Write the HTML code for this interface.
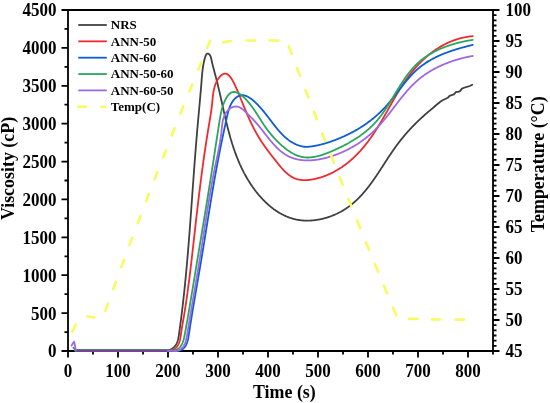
<!DOCTYPE html>
<html><head><meta charset="utf-8"><title>Viscosity chart</title>
<style>html,body{margin:0;padding:0;background:#fff;}svg{display:block;}</style>
</head><body>
<svg width="550" height="403" viewBox="0 0 550 403">
<rect width="550" height="403" fill="#fff"/>
<path d="M68,10 H493 M68,351 H493 M68,9.2 V351.8 M493,9.2 V351.8" stroke="#000" stroke-width="1.8" fill="none"/>
<path d="M61.5,351.00 H68 M64.5,332.06 H68 M61.5,313.11 H68 M64.5,294.17 H68 M61.5,275.22 H68 M64.5,256.28 H68 M61.5,237.33 H68 M64.5,218.39 H68 M61.5,199.44 H68 M64.5,180.50 H68 M61.5,161.56 H68 M64.5,142.61 H68 M61.5,123.67 H68 M64.5,104.72 H68 M61.5,85.78 H68 M64.5,66.83 H68 M61.5,47.89 H68 M64.5,28.94 H68 M61.5,10.00 H68 M68.00,351 V357.5 M93.00,351 V354.5 M118.00,351 V357.5 M143.00,351 V354.5 M168.00,351 V357.5 M193.00,351 V354.5 M218.00,351 V357.5 M243.00,351 V354.5 M268.00,351 V357.5 M293.00,351 V354.5 M318.00,351 V357.5 M343.00,351 V354.5 M368.00,351 V357.5 M393.00,351 V354.5 M418.00,351 V357.5 M443.00,351 V354.5 M468.00,351 V357.5 M493.00,351 V354.5 M493,351.00 H499.5 M493,345.83 H496.5 M493,340.67 H496.5 M493,335.50 H496.5 M493,330.33 H496.5 M493,325.17 H496.5 M493,320.00 H499.5 M493,314.83 H496.5 M493,309.67 H496.5 M493,304.50 H496.5 M493,299.33 H496.5 M493,294.17 H496.5 M493,289.00 H499.5 M493,283.83 H496.5 M493,278.67 H496.5 M493,273.50 H496.5 M493,268.33 H496.5 M493,263.17 H496.5 M493,258.00 H499.5 M493,252.83 H496.5 M493,247.67 H496.5 M493,242.50 H496.5 M493,237.33 H496.5 M493,232.17 H496.5 M493,227.00 H499.5 M493,221.83 H496.5 M493,216.67 H496.5 M493,211.50 H496.5 M493,206.33 H496.5 M493,201.17 H496.5 M493,196.00 H499.5 M493,190.83 H496.5 M493,185.67 H496.5 M493,180.50 H496.5 M493,175.33 H496.5 M493,170.17 H496.5 M493,165.00 H499.5 M493,159.83 H496.5 M493,154.67 H496.5 M493,149.50 H496.5 M493,144.33 H496.5 M493,139.17 H496.5 M493,134.00 H499.5 M493,128.83 H496.5 M493,123.67 H496.5 M493,118.50 H496.5 M493,113.33 H496.5 M493,108.17 H496.5 M493,103.00 H499.5 M493,97.83 H496.5 M493,92.67 H496.5 M493,87.50 H496.5 M493,82.33 H496.5 M493,77.17 H496.5 M493,72.00 H499.5 M493,66.83 H496.5 M493,61.67 H496.5 M493,56.50 H496.5 M493,51.33 H496.5 M493,46.17 H496.5 M493,41.00 H499.5 M493,35.83 H496.5 M493,30.67 H496.5 M493,25.50 H496.5 M493,20.33 H496.5 M493,15.17 H496.5 M493,10.00 H499.5" stroke="#000" stroke-width="1.8" fill="none"/>
<path d="M75.00,350.10 L166.00,350.10 L166.53,350.19 L167.06,350.23 L167.61,350.22 L168.15,350.16 L168.70,350.07 L169.24,349.93 L169.78,349.75 L170.32,349.54 L170.84,349.30 L171.36,349.04 L171.86,348.74 L172.34,348.43 L172.81,348.09 L173.26,347.74 L173.68,347.38 L174.08,347.00 L174.46,346.61 L174.81,346.21 L175.15,345.79 L175.47,345.37 L175.76,344.93 L176.04,344.49 L176.31,344.03 L176.55,343.57 L176.78,343.09 L177.00,342.61 L177.20,342.12 L177.38,341.62 L177.56,341.12 L177.72,340.61 L177.87,340.09 L178.01,339.57 L178.14,339.04 L178.27,338.51 L178.38,337.97 L178.49,337.43 L178.59,336.89 L178.69,336.34 L178.78,335.79 L178.86,335.24 L178.95,334.69 L179.03,334.13 L179.11,333.58 L179.18,333.02 L179.26,332.47 L179.34,331.91 L179.42,331.36 L179.49,330.81 L179.57,330.25 L179.64,329.70 L179.72,329.15 L179.80,328.59 L179.87,328.04 L179.95,327.49 L180.02,326.94 L180.09,326.38 L180.17,325.83 L180.24,325.28 L180.31,324.73 L180.39,324.18 L180.46,323.62 L180.53,323.07 L180.60,322.52 L180.68,321.97 L180.75,321.42 L180.82,320.87 L180.89,320.32 L180.96,319.77 L181.03,319.22 L181.10,318.67 L181.17,318.12 L181.24,317.57 L181.31,317.02 L181.38,316.47 L181.45,315.93 L181.52,315.38 L181.58,314.83 L181.65,314.28 L181.72,313.73 L181.79,313.18 L181.85,312.64 L181.92,312.09 L181.99,311.54 L182.05,310.99 L182.12,310.44 L182.18,309.90 L182.25,309.35 L182.31,308.80 L182.38,308.26 L182.44,307.71 L182.51,307.16 L182.57,306.62 L182.64,306.07 L182.70,305.52 L182.76,304.98 L182.83,304.43 L182.89,303.89 L182.95,303.34 L183.01,302.79 L183.08,302.25 L183.14,301.70 L183.20,301.16 L183.26,300.61 L183.32,300.07 L183.38,299.52 L183.44,298.98 L183.50,298.43 L183.56,297.89 L183.62,297.34 L183.68,296.80 L183.74,296.26 L183.80,295.71 L183.86,295.17 L183.92,294.62 L183.98,294.08 L184.04,293.53 L184.10,292.99 L184.15,292.45 L184.21,291.90 L184.27,291.36 L184.33,290.82 L184.38,290.27 L184.44,289.73 L184.50,289.19 L184.55,288.64 L184.61,288.10 L184.67,287.56 L184.72,287.01 L184.78,286.47 L184.83,285.93 L184.89,285.38 L184.94,284.84 L185.00,284.30 L185.05,283.76 L185.11,283.21 L185.16,282.67 L185.22,282.13 L185.27,281.58 L185.32,281.04 L185.38,280.50 L185.43,279.96 L185.48,279.42 L185.54,278.87 L185.59,278.33 L185.64,277.79 L185.69,277.25 L185.75,276.70 L185.80,276.16 L185.85,275.62 L185.90,275.08 L185.95,274.53 L186.00,273.99 L186.06,273.45 L186.11,272.91 L186.16,272.37 L186.21,271.82 L186.26,271.28 L186.31,270.74 L186.36,270.20 L186.41,269.66 L186.46,269.11 L186.51,268.57 L186.56,268.03 L186.61,267.49 L186.66,266.94 L186.70,266.40 L186.75,265.86 L186.80,265.32 L186.85,264.78 L186.90,264.23 L186.95,263.69 L187.00,263.15 L187.04,262.61 L187.09,262.07 L187.14,261.52 L187.19,260.98 L187.23,260.44 L187.28,259.90 L187.33,259.35 L187.38,258.81 L187.42,258.27 L187.47,257.73 L187.52,257.18 L187.56,256.64 L187.61,256.10 L187.65,255.56 L187.70,255.01 L187.75,254.47 L187.79,253.93 L187.84,253.39 L187.88,252.84 L187.93,252.30 L187.97,251.76 L188.02,251.21 L188.07,250.67 L188.11,250.13 L188.15,249.59 L188.20,249.04 L188.24,248.50 L188.29,247.96 L188.33,247.41 L188.38,246.87 L188.42,246.33 L188.47,245.78 L188.51,245.24 L188.55,244.70 L188.60,244.15 L188.64,243.61 L188.68,243.07 L188.73,242.52 L188.77,241.98 L188.82,241.44 L188.86,240.89 L188.90,240.35 L188.94,239.81 L188.99,239.26 L189.03,238.72 L189.07,238.18 L189.12,237.63 L189.16,237.09 L189.20,236.54 L189.24,236.00 L189.29,235.46 L189.33,234.91 L189.37,234.37 L189.41,233.83 L189.45,233.28 L189.50,232.74 L189.54,232.19 L189.58,231.65 L189.62,231.10 L189.66,230.56 L189.70,230.02 L189.75,229.47 L189.79,228.93 L189.83,228.38 L189.87,227.84 L189.91,227.30 L189.95,226.75 L189.99,226.21 L190.03,225.66 L190.07,225.12 L190.12,224.57 L190.16,224.03 L190.20,223.48 L190.24,222.94 L190.28,222.39 L190.32,221.85 L190.36,221.30 L190.40,220.76 L190.44,220.21 L190.48,219.67 L190.52,219.13 L190.56,218.58 L190.60,218.04 L190.64,217.49 L190.68,216.94 L190.72,216.40 L190.76,215.85 L190.80,215.31 L190.84,214.76 L190.88,214.22 L190.92,213.67 L190.96,213.13 L191.00,212.58 L191.04,212.04 L191.08,211.49 L191.12,210.95 L191.16,210.40 L191.20,209.86 L191.24,209.31 L191.28,208.76 L191.32,208.22 L191.36,207.67 L191.40,207.13 L191.44,206.58 L191.48,206.04 L191.52,205.49 L191.55,204.94 L191.59,204.40 L191.63,203.85 L191.67,203.31 L191.71,202.76 L191.75,202.21 L191.79,201.67 L191.83,201.12 L191.87,200.58 L191.91,200.03 L191.95,199.48 L191.99,198.94 L192.03,198.39 L192.07,197.84 L192.11,197.30 L192.14,196.75 L192.18,196.20 L192.22,195.66 L192.26,195.11 L192.30,194.56 L192.34,194.02 L192.38,193.47 L192.42,192.92 L192.46,192.38 L192.50,191.83 L192.54,191.28 L192.58,190.74 L192.62,190.19 L192.66,189.64 L192.69,189.09 L192.73,188.55 L192.77,188.00 L192.81,187.45 L192.85,186.91 L192.89,186.36 L192.93,185.81 L192.97,185.26 L193.01,184.72 L193.05,184.17 L193.09,183.62 L193.13,183.07 L193.17,182.53 L193.21,181.98 L193.25,181.43 L193.29,180.88 L193.33,180.34 L193.37,179.79 L193.41,179.24 L193.45,178.69 L193.49,178.14 L193.53,177.60 L193.57,177.05 L193.61,176.50 L193.65,175.95 L193.69,175.40 L193.73,174.86 L193.77,174.31 L193.81,173.76 L193.85,173.21 L193.89,172.66 L193.93,172.11 L193.97,171.57 L194.01,171.02 L194.05,170.47 L194.09,169.92 L194.13,169.37 L194.17,168.82 L194.21,168.27 L194.25,167.73 L194.30,167.18 L194.34,166.63 L194.38,166.08 L194.42,165.53 L194.46,164.98 L194.50,164.43 L194.54,163.88 L194.58,163.33 L194.63,162.78 L194.67,162.24 L194.71,161.69 L194.75,161.14 L194.79,160.59 L194.83,160.04 L194.88,159.49 L194.92,158.94 L194.96,158.39 L195.00,157.84 L195.04,157.29 L195.09,156.74 L195.13,156.19 L195.17,155.64 L195.21,155.09 L195.26,154.54 L195.30,153.99 L195.34,153.44 L195.39,152.89 L195.43,152.34 L195.47,151.79 L195.52,151.24 L195.56,150.69 L195.60,150.14 L195.65,149.59 L195.69,149.04 L195.73,148.49 L195.78,147.94 L195.82,147.39 L195.86,146.84 L195.91,146.29 L195.95,145.74 L196.00,145.19 L196.04,144.64 L196.09,144.09 L196.13,143.54 L196.18,142.98 L196.22,142.43 L196.27,141.88 L196.31,141.33 L196.36,140.78 L196.40,140.23 L196.45,139.68 L196.49,139.13 L196.54,138.58 L196.59,138.02 L196.63,137.47 L196.68,136.92 L196.72,136.37 L196.77,135.82 L196.82,135.27 L196.86,134.72 L196.91,134.16 L196.96,133.61 L197.00,133.06 L197.05,132.51 L197.10,131.96 L197.15,131.41 L197.19,130.85 L197.24,130.30 L197.29,129.75 L197.34,129.20 L197.39,128.65 L197.43,128.09 L197.48,127.54 L197.53,126.99 L197.58,126.44 L197.63,125.88 L197.68,125.33 L197.73,124.78 L197.78,124.23 L197.82,123.68 L197.87,123.12 L197.92,122.57 L197.97,122.02 L198.02,121.47 L198.07,120.92 L198.12,120.36 L198.17,119.81 L198.22,119.26 L198.27,118.71 L198.32,118.16 L198.37,117.61 L198.42,117.06 L198.47,116.51 L198.52,115.95 L198.57,115.40 L198.62,114.85 L198.67,114.30 L198.72,113.75 L198.77,113.20 L198.82,112.65 L198.87,112.10 L198.92,111.55 L198.97,111.00 L199.02,110.46 L199.07,109.91 L199.12,109.36 L199.17,108.81 L199.22,108.26 L199.27,107.71 L199.32,107.17 L199.37,106.62 L199.42,106.07 L199.47,105.53 L199.52,104.98 L199.57,104.43 L199.62,103.89 L199.67,103.34 L199.71,102.80 L199.76,102.25 L199.81,101.71 L199.86,101.16 L199.91,100.62 L199.96,100.08 L200.01,99.53 L200.05,98.99 L200.10,98.45 L200.15,97.91 L200.20,97.37 L200.25,96.82 L200.29,96.28 L200.34,95.74 L200.39,95.20 L200.44,94.66 L200.48,94.13 L200.53,93.59 L200.58,93.05 L200.62,92.51 L200.67,91.97 L200.71,91.44 L200.76,90.90 L200.81,90.37 L200.85,89.83 L200.90,89.30 L200.94,88.76 L200.99,88.23 L201.03,87.70 L201.07,87.17 L201.12,86.63 L201.16,86.10 L201.21,85.57 L201.25,85.04 L201.29,84.51 L201.33,83.98 L201.38,83.46 L201.42,82.93 L201.46,82.40 L201.50,81.88 L201.54,81.35 L201.59,80.83 L201.63,80.30 L201.67,79.78 L201.71,79.25 L201.75,78.73 L201.79,78.21 L201.83,77.69 L201.87,77.16 L201.91,76.64 L201.95,76.12 L202.00,75.59 L202.04,75.07 L202.09,74.54 L202.14,74.01 L202.19,73.48 L202.24,72.95 L202.30,72.42 L202.35,71.88 L202.41,71.35 L202.47,70.81 L202.54,70.26 L202.61,69.72 L202.68,69.17 L202.75,68.62 L202.83,68.07 L202.91,67.51 L203.00,66.95 L203.09,66.38 L203.18,65.81 L203.28,65.24 L203.39,64.66 L203.49,64.07 L203.61,63.49 L203.73,62.89 L203.85,62.29 L203.98,61.69 L204.12,61.08 L204.26,60.47 L204.40,59.84 L204.56,59.22 L204.72,58.59 L204.89,57.97 L205.07,57.37 L205.26,56.79 L205.46,56.23 L205.67,55.71 L205.90,55.23 L206.14,54.80 L206.39,54.43 L206.66,54.11 L206.95,53.87 L207.25,53.71 L207.58,53.62 L207.92,53.63 L208.29,53.73 L208.65,53.91 L209.02,54.17 L209.37,54.49 L209.70,54.86 L210.00,55.28 L210.26,55.75 L210.49,56.24 L210.69,56.76 L210.86,57.31 L211.02,57.88 L211.17,58.45 L211.30,59.04 L211.44,59.63 L211.57,60.22 L211.70,60.80 L211.83,61.38 L211.96,61.96 L212.10,62.53 L212.23,63.10 L212.37,63.66 L212.50,64.23 L212.64,64.79 L212.78,65.34 L212.91,65.90 L213.05,66.45 L213.19,67.00 L213.33,67.54 L213.47,68.09 L213.61,68.63 L213.74,69.17 L213.88,69.71 L214.02,70.24 L214.16,70.78 L214.30,71.31 L214.44,71.84 L214.58,72.37 L214.72,72.90 L214.86,73.42 L215.00,73.95 L215.14,74.47 L215.28,75.00 L215.42,75.52 L215.56,76.04 L215.70,76.57 L215.83,77.09 L215.97,77.61 L216.11,78.13 L216.24,78.65 L216.38,79.17 L216.51,79.69 L216.65,80.22 L216.78,80.74 L216.91,81.26 L217.05,81.78 L217.18,82.31 L217.31,82.83 L217.44,83.35 L217.57,83.88 L217.70,84.40 L217.83,84.93 L217.95,85.45 L218.08,85.98 L218.21,86.50 L218.33,87.03 L218.46,87.55 L218.58,88.08 L218.71,88.61 L218.83,89.13 L218.96,89.66 L219.08,90.19 L219.20,90.72 L219.33,91.24 L219.45,91.77 L219.57,92.30 L219.69,92.83 L219.81,93.36 L219.93,93.89 L220.05,94.42 L220.18,94.95 L220.30,95.48 L220.41,96.01 L220.53,96.54 L220.65,97.07 L220.77,97.60 L220.89,98.13 L221.01,98.66 L221.13,99.19 L221.25,99.72 L221.37,100.25 L221.48,100.78 L221.60,101.32 L221.72,101.85 L221.84,102.38 L221.96,102.91 L222.08,103.44 L222.19,103.97 L222.31,104.51 L222.43,105.04 L222.55,105.57 L222.67,106.10 L222.78,106.64 L222.90,107.17 L223.02,107.70 L223.14,108.23 L223.26,108.77 L223.38,109.30 L223.50,109.83 L223.62,110.37 L223.73,110.90 L223.85,111.43 L223.97,111.96 L224.09,112.50 L224.22,113.03 L224.34,113.56 L224.46,114.10 L224.58,114.63 L224.70,115.16 L224.82,115.70 L224.94,116.23 L225.07,116.76 L225.19,117.29 L225.31,117.83 L225.44,118.36 L225.56,118.89 L225.69,119.42 L225.81,119.96 L225.94,120.49 L226.07,121.02 L226.19,121.55 L226.32,122.09 L226.45,122.62 L226.58,123.15 L226.71,123.68 L226.84,124.21 L226.97,124.74 L227.10,125.28 L227.23,125.81 L227.36,126.34 L227.49,126.87 L227.63,127.40 L227.76,127.93 L227.90,128.46 L228.03,128.99 L228.17,129.52 L228.31,130.05 L228.45,130.58 L228.59,131.11 L228.73,131.64 L228.87,132.17 L229.01,132.70 L229.15,133.23 L229.30,133.76 L229.44,134.28 L229.59,134.81 L229.73,135.34 L229.88,135.87 L230.03,136.40 L230.18,136.92 L230.33,137.45 L230.48,137.98 L230.63,138.50 L230.78,139.03 L230.94,139.55 L231.09,140.08 L231.25,140.60 L231.41,141.13 L231.57,141.65 L231.73,142.18 L231.89,142.70 L232.05,143.23 L232.22,143.75 L232.38,144.27 L232.55,144.79 L232.71,145.32 L232.88,145.84 L233.05,146.36 L233.22,146.88 L233.40,147.40 L233.57,147.92 L233.75,148.44 L233.92,148.96 L234.10,149.48 L234.28,150.00 L234.46,150.52 L234.64,151.03 L234.83,151.55 L235.01,152.07 L235.20,152.58 L235.39,153.10 L235.58,153.62 L235.77,154.13 L235.96,154.65 L236.15,155.16 L236.35,155.67 L236.55,156.19 L236.75,156.70 L236.95,157.21 L237.15,157.73 L237.35,158.24 L237.56,158.75 L237.77,159.26 L237.98,159.77 L238.19,160.28 L238.40,160.79 L238.61,161.29 L238.83,161.80 L239.05,162.31 L239.27,162.82 L239.49,163.32 L239.71,163.83 L239.94,164.33 L240.16,164.84 L240.39,165.34 L240.62,165.84 L240.86,166.35 L241.09,166.85 L241.33,167.35 L241.57,167.85 L241.81,168.35 L242.05,168.85 L242.29,169.35 L242.54,169.85 L242.79,170.34 L243.04,170.84 L243.29,171.34 L243.55,171.83 L243.80,172.33 L244.06,172.82 L244.32,173.32 L244.59,173.81 L244.85,174.30 L245.12,174.79 L245.39,175.28 L245.66,175.77 L245.94,176.26 L246.21,176.75 L246.49,177.24 L246.77,177.73 L247.06,178.21 L247.34,178.70 L247.63,179.18 L247.92,179.67 L248.21,180.15 L248.50,180.63 L248.80,181.11 L249.10,181.59 L249.40,182.07 L249.70,182.54 L250.01,183.02 L250.31,183.49 L250.62,183.96 L250.93,184.43 L251.25,184.90 L251.56,185.37 L251.88,185.84 L252.20,186.30 L252.52,186.77 L252.85,187.23 L253.17,187.69 L253.50,188.15 L253.83,188.61 L254.16,189.06 L254.50,189.52 L254.84,189.97 L255.17,190.42 L255.51,190.87 L255.86,191.31 L256.20,191.76 L256.55,192.20 L256.90,192.64 L257.25,193.08 L257.60,193.52 L257.96,193.95 L258.32,194.38 L258.67,194.81 L259.04,195.24 L259.40,195.66 L259.77,196.09 L260.13,196.51 L260.50,196.93 L260.87,197.34 L261.25,197.76 L261.62,198.17 L262.00,198.58 L262.38,198.98 L262.76,199.39 L263.15,199.79 L263.53,200.18 L263.92,200.58 L264.31,200.97 L264.70,201.36 L265.09,201.75 L265.49,202.13 L265.89,202.51 L266.29,202.89 L266.69,203.27 L267.09,203.64 L267.49,204.01 L267.90,204.38 L268.31,204.74 L268.72,205.10 L269.14,205.46 L269.55,205.81 L269.97,206.16 L270.39,206.51 L270.81,206.85 L271.23,207.19 L271.65,207.53 L272.08,207.87 L272.51,208.20 L272.94,208.52 L273.37,208.85 L273.80,209.17 L274.24,209.48 L274.68,209.80 L275.12,210.11 L275.56,210.41 L276.00,210.71 L276.45,211.01 L276.90,211.30 L277.34,211.59 L277.80,211.88 L278.25,212.16 L278.70,212.44 L279.16,212.72 L279.62,212.99 L280.08,213.25 L280.54,213.51 L281.00,213.77 L281.47,214.03 L281.94,214.28 L282.40,214.52 L282.88,214.76 L283.35,215.00 L283.82,215.23 L284.30,215.46 L284.78,215.68 L285.26,215.90 L285.74,216.12 L286.22,216.33 L286.71,216.53 L287.20,216.74 L287.68,216.93 L288.17,217.12 L288.67,217.31 L289.16,217.49 L289.66,217.67 L290.15,217.84 L290.65,218.01 L291.15,218.17 L291.66,218.33 L292.16,218.49 L292.67,218.63 L293.18,218.78 L293.69,218.91 L294.20,219.05 L294.71,219.18 L295.22,219.30 L295.74,219.42 L296.26,219.53 L296.78,219.63 L297.30,219.74 L297.82,219.83 L298.35,219.92 L298.88,220.01 L299.40,220.09 L299.93,220.16 L300.47,220.23 L301.00,220.29 L301.53,220.35 L302.07,220.40 L302.61,220.45 L303.15,220.49 L303.69,220.53 L304.23,220.56 L304.77,220.59 L305.31,220.61 L305.86,220.62 L306.40,220.63 L306.95,220.64 L307.50,220.64 L308.05,220.63 L308.60,220.62 L309.15,220.61 L309.70,220.59 L310.25,220.56 L310.80,220.53 L311.35,220.50 L311.90,220.46 L312.46,220.41 L313.01,220.36 L313.56,220.31 L314.12,220.25 L314.67,220.18 L315.22,220.11 L315.78,220.04 L316.33,219.96 L316.88,219.88 L317.44,219.79 L317.99,219.70 L318.54,219.60 L319.09,219.50 L319.65,219.39 L320.20,219.28 L320.75,219.17 L321.30,219.05 L321.85,218.93 L322.40,218.80 L322.95,218.66 L323.49,218.53 L324.04,218.39 L324.58,218.24 L325.13,218.09 L325.67,217.94 L326.21,217.78 L326.76,217.62 L327.30,217.45 L327.83,217.28 L328.37,217.11 L328.91,216.93 L329.44,216.75 L329.98,216.56 L330.51,216.37 L331.04,216.18 L331.56,215.98 L332.09,215.78 L332.61,215.57 L333.14,215.36 L333.66,215.15 L334.18,214.93 L334.69,214.71 L335.21,214.48 L335.72,214.26 L336.23,214.02 L336.74,213.79 L337.24,213.55 L337.75,213.31 L338.25,213.06 L338.74,212.81 L339.24,212.56 L339.73,212.30 L340.22,212.04 L340.71,211.78 L341.19,211.51 L341.68,211.24 L342.15,210.97 L342.63,210.69 L343.10,210.41 L343.57,210.13 L344.04,209.84 L344.50,209.55 L344.96,209.26 L345.42,208.97 L345.88,208.67 L346.33,208.36 L346.78,208.06 L347.23,207.75 L347.67,207.44 L348.11,207.13 L348.55,206.81 L348.99,206.49 L349.42,206.17 L349.85,205.84 L350.28,205.52 L350.70,205.19 L351.12,204.85 L351.55,204.52 L351.96,204.18 L352.38,203.84 L352.79,203.49 L353.20,203.14 L353.61,202.80 L354.02,202.44 L354.42,202.09 L354.82,201.73 L355.22,201.37 L355.61,201.01 L356.01,200.65 L356.40,200.28 L356.79,199.91 L357.18,199.54 L357.56,199.17 L357.95,198.79 L358.33,198.41 L358.71,198.03 L359.09,197.65 L359.46,197.27 L359.83,196.88 L360.21,196.49 L360.58,196.10 L360.94,195.71 L361.31,195.31 L361.67,194.92 L362.04,194.52 L362.40,194.12 L362.75,193.71 L363.11,193.31 L363.47,192.90 L363.82,192.50 L364.17,192.09 L364.52,191.67 L364.87,191.26 L365.22,190.85 L365.56,190.43 L365.91,190.01 L366.25,189.59 L366.59,189.17 L366.93,188.75 L367.27,188.32 L367.61,187.89 L367.94,187.47 L368.28,187.04 L368.61,186.61 L368.94,186.18 L369.27,185.74 L369.60,185.31 L369.93,184.87 L370.25,184.44 L370.58,184.00 L370.90,183.56 L371.23,183.12 L371.55,182.67 L371.87,182.23 L372.19,181.79 L372.51,181.34 L372.83,180.90 L373.15,180.45 L373.46,180.00 L373.78,179.55 L374.09,179.10 L374.41,178.65 L374.72,178.20 L375.03,177.74 L375.34,177.29 L375.65,176.84 L375.96,176.38 L376.27,175.92 L376.58,175.47 L376.89,175.01 L377.20,174.55 L377.50,174.09 L377.81,173.63 L378.12,173.17 L378.42,172.71 L378.73,172.25 L379.03,171.79 L379.34,171.33 L379.64,170.87 L379.94,170.40 L380.25,169.94 L380.55,169.48 L380.85,169.01 L381.15,168.55 L381.45,168.08 L381.76,167.62 L382.06,167.15 L382.36,166.69 L382.66,166.22 L382.96,165.76 L383.26,165.29 L383.56,164.83 L383.87,164.36 L384.17,163.90 L384.47,163.43 L384.77,162.97 L385.07,162.50 L385.37,162.04 L385.67,161.57 L385.98,161.10 L386.28,160.64 L386.58,160.18 L386.88,159.71 L387.19,159.25 L387.49,158.78 L387.79,158.32 L388.10,157.86 L388.40,157.39 L388.70,156.93 L389.01,156.47 L389.32,156.01 L389.62,155.55 L389.93,155.09 L390.23,154.63 L390.54,154.17 L390.85,153.71 L391.16,153.25 L391.47,152.79 L391.78,152.34 L392.09,151.88 L392.40,151.42 L392.71,150.97 L393.03,150.52 L393.34,150.06 L393.66,149.61 L393.97,149.16 L394.29,148.71 L394.61,148.26 L394.92,147.81 L395.24,147.37 L395.56,146.92 L395.88,146.47 L396.21,146.03 L396.53,145.59 L396.85,145.14 L397.18,144.70 L397.51,144.26 L397.84,143.83 L398.16,143.39 L398.50,142.95 L398.83,142.52 L399.16,142.09 L399.49,141.65 L399.83,141.22 L400.16,140.79 L400.50,140.36 L400.84,139.94 L401.18,139.51 L401.52,139.08 L401.86,138.66 L402.21,138.24 L402.55,137.82 L402.90,137.40 L403.24,136.98 L403.59,136.56 L403.94,136.14 L404.29,135.72 L404.64,135.31 L404.99,134.90 L405.35,134.48 L405.70,134.07 L406.06,133.66 L406.42,133.25 L406.77,132.84 L407.13,132.44 L407.49,132.03 L407.86,131.62 L408.22,131.22 L408.58,130.82 L408.95,130.42 L409.31,130.01 L409.68,129.61 L410.05,129.22 L410.42,128.82 L410.79,128.42 L411.16,128.02 L411.54,127.63 L411.91,127.24 L412.29,126.84 L412.66,126.45 L413.04,126.06 L413.42,125.67 L413.80,125.28 L414.18,124.89 L414.56,124.51 L414.95,124.12 L415.33,123.74 L415.71,123.35 L416.10,122.97 L416.49,122.59 L416.88,122.21 L417.27,121.83 L417.66,121.45 L418.05,121.07 L418.44,120.69 L418.84,120.31 L419.23,119.94 L419.63,119.56 L420.03,119.19 L420.43,118.81 L420.83,118.44 L421.23,118.07 L421.63,117.70 L422.03,117.33 L422.44,116.96 L422.84,116.59 L423.25,116.23 L423.66,115.86 L424.07,115.49 L424.48,115.13 L424.89,114.77 L425.30,114.40 L425.71,114.04 L426.13,113.68 L426.54,113.32 L426.96,112.96 L427.38,112.60 L427.79,112.24 L428.21,111.88 L428.63,111.53 L429.06,111.17 L429.48,110.82 L429.90,110.46 L430.33,110.11 L430.75,109.75 L431.18,109.40 L431.61,109.05 L432.04,108.70 L432.47,108.35 L432.90,108.00 L436.60,104.80 L440.30,101.80 L442.60,100.30 L444.60,99.30 L447.80,97.80 L449.50,95.90 L451.70,95.10 L453.90,94.40 L456.10,91.90 L458.30,91.80 L460.10,91.10 L461.90,88.60 L464.80,87.50 L467.70,86.70 L469.90,86.00 L472.10,84.80" fill="none" stroke="#404040" stroke-width="1.8" stroke-linejoin="round" stroke-linecap="round"/>
<path d="M75.00,350.50 L169.00,350.50 L169.54,350.53 L170.08,350.53 L170.59,350.50 L171.10,350.43 L171.59,350.34 L172.07,350.21 L172.54,350.06 L172.99,349.88 L173.43,349.67 L173.85,349.44 L174.27,349.18 L174.67,348.91 L175.05,348.61 L175.43,348.29 L175.78,347.96 L176.13,347.60 L176.46,347.24 L176.78,346.85 L177.08,346.45 L177.38,346.04 L177.65,345.62 L177.92,345.19 L178.17,344.75 L178.40,344.30 L178.62,343.85 L178.83,343.39 L179.02,342.92 L179.20,342.46 L179.37,341.98 L179.53,341.51 L179.67,341.03 L179.81,340.55 L179.93,340.06 L180.05,339.57 L180.16,339.08 L180.26,338.59 L180.36,338.09 L180.44,337.60 L180.53,337.10 L180.61,336.60 L180.68,336.10 L180.76,335.60 L180.83,335.10 L180.90,334.60 L180.96,334.10 L181.03,333.60 L181.10,333.09 L181.17,332.59 L181.24,332.10 L181.32,331.60 L181.39,331.10 L181.47,330.60 L181.54,330.10 L181.62,329.61 L181.70,329.11 L181.78,328.62 L181.86,328.12 L181.94,327.63 L182.03,327.13 L182.11,326.64 L182.19,326.15 L182.28,325.65 L182.36,325.16 L182.45,324.67 L182.53,324.17 L182.62,323.68 L182.70,323.19 L182.79,322.70 L182.88,322.21 L182.96,321.72 L183.05,321.22 L183.13,320.73 L183.22,320.24 L183.30,319.75 L183.39,319.26 L183.47,318.77 L183.56,318.28 L183.64,317.78 L183.72,317.29 L183.81,316.80 L183.89,316.31 L183.97,315.82 L184.05,315.33 L184.14,314.83 L184.22,314.34 L184.30,313.85 L184.38,313.36 L184.46,312.87 L184.54,312.37 L184.62,311.88 L184.70,311.39 L184.78,310.90 L184.86,310.40 L184.93,309.91 L185.01,309.42 L185.09,308.93 L185.17,308.43 L185.24,307.94 L185.32,307.45 L185.40,306.96 L185.47,306.46 L185.55,305.97 L185.62,305.48 L185.70,304.99 L185.77,304.49 L185.85,304.00 L185.92,303.51 L186.00,303.01 L186.07,302.52 L186.14,302.03 L186.22,301.53 L186.29,301.04 L186.36,300.55 L186.43,300.05 L186.51,299.56 L186.58,299.07 L186.65,298.57 L186.72,298.08 L186.79,297.59 L186.86,297.09 L186.93,296.60 L187.00,296.11 L187.07,295.61 L187.14,295.12 L187.21,294.63 L187.28,294.13 L187.35,293.64 L187.42,293.14 L187.49,292.65 L187.56,292.16 L187.62,291.66 L187.69,291.17 L187.76,290.67 L187.83,290.18 L187.89,289.69 L187.96,289.19 L188.03,288.70 L188.09,288.20 L188.16,287.71 L188.22,287.21 L188.29,286.72 L188.36,286.22 L188.42,285.73 L188.49,285.24 L188.55,284.74 L188.62,284.25 L188.68,283.75 L188.74,283.26 L188.81,282.76 L188.87,282.27 L188.94,281.77 L189.00,281.28 L189.06,280.78 L189.12,280.29 L189.19,279.79 L189.25,279.30 L189.31,278.80 L189.38,278.31 L189.44,277.81 L189.50,277.32 L189.56,276.82 L189.62,276.33 L189.68,275.83 L189.75,275.33 L189.81,274.84 L189.87,274.34 L189.93,273.85 L189.99,273.35 L190.05,272.86 L190.11,272.36 L190.17,271.87 L190.23,271.37 L190.29,270.87 L190.35,270.38 L190.41,269.88 L190.47,269.39 L190.53,268.89 L190.59,268.39 L190.65,267.90 L190.71,267.40 L190.77,266.91 L190.82,266.41 L190.88,265.91 L190.94,265.42 L191.00,264.92 L191.06,264.42 L191.12,263.93 L191.17,263.43 L191.23,262.93 L191.29,262.44 L191.35,261.94 L191.41,261.44 L191.46,260.95 L191.52,260.45 L191.58,259.95 L191.64,259.46 L191.69,258.96 L191.75,258.46 L191.81,257.97 L191.86,257.47 L191.92,256.97 L191.98,256.48 L192.03,255.98 L192.09,255.48 L192.15,254.98 L192.20,254.49 L192.26,253.99 L192.32,253.49 L192.37,253.00 L192.43,252.50 L192.49,252.00 L192.54,251.50 L192.60,251.01 L192.65,250.51 L192.71,250.01 L192.77,249.51 L192.82,249.02 L192.88,248.52 L192.93,248.02 L192.99,247.52 L193.05,247.03 L193.10,246.53 L193.16,246.03 L193.21,245.53 L193.27,245.03 L193.32,244.54 L193.38,244.04 L193.43,243.54 L193.49,243.04 L193.55,242.54 L193.60,242.05 L193.66,241.55 L193.71,241.05 L193.77,240.55 L193.82,240.05 L193.88,239.55 L193.93,239.06 L193.99,238.56 L194.05,238.06 L194.10,237.56 L194.16,237.06 L194.21,236.56 L194.27,236.06 L194.32,235.57 L194.38,235.07 L194.44,234.57 L194.49,234.07 L194.55,233.57 L194.60,233.07 L194.66,232.57 L194.71,232.07 L194.77,231.57 L194.83,231.08 L194.88,230.58 L194.94,230.08 L194.99,229.58 L195.05,229.08 L195.11,228.58 L195.16,228.08 L195.22,227.58 L195.28,227.08 L195.33,226.58 L195.39,226.08 L195.44,225.58 L195.50,225.08 L195.56,224.59 L195.61,224.09 L195.67,223.59 L195.73,223.09 L195.78,222.59 L195.84,222.09 L195.90,221.59 L195.95,221.09 L196.01,220.59 L196.07,220.09 L196.13,219.59 L196.18,219.09 L196.24,218.59 L196.30,218.09 L196.36,217.59 L196.41,217.09 L196.47,216.59 L196.53,216.09 L196.59,215.59 L196.64,215.09 L196.70,214.59 L196.76,214.09 L196.82,213.59 L196.87,213.09 L196.93,212.59 L196.99,212.09 L197.05,211.59 L197.11,211.09 L197.17,210.59 L197.22,210.09 L197.28,209.59 L197.34,209.09 L197.40,208.59 L197.46,208.09 L197.52,207.59 L197.58,207.09 L197.64,206.60 L197.69,206.10 L197.75,205.60 L197.81,205.10 L197.87,204.60 L197.93,204.10 L197.99,203.60 L198.05,203.10 L198.11,202.60 L198.17,202.10 L198.23,201.60 L198.29,201.10 L198.35,200.60 L198.41,200.10 L198.47,199.60 L198.53,199.10 L198.59,198.60 L198.65,198.10 L198.71,197.60 L198.77,197.10 L198.83,196.60 L198.89,196.10 L198.95,195.60 L199.01,195.11 L199.08,194.61 L199.14,194.11 L199.20,193.61 L199.26,193.11 L199.32,192.61 L199.38,192.11 L199.44,191.61 L199.50,191.11 L199.57,190.61 L199.63,190.11 L199.69,189.62 L199.75,189.12 L199.81,188.62 L199.88,188.12 L199.94,187.62 L200.00,187.12 L200.06,186.62 L200.13,186.12 L200.19,185.63 L200.25,185.13 L200.32,184.63 L200.38,184.13 L200.44,183.63 L200.51,183.13 L200.57,182.64 L200.63,182.14 L200.70,181.64 L200.76,181.14 L200.82,180.64 L200.89,180.15 L200.95,179.65 L201.02,179.15 L201.08,178.65 L201.15,178.16 L201.21,177.66 L201.28,177.16 L201.34,176.66 L201.41,176.17 L201.47,175.67 L201.54,175.17 L201.60,174.68 L201.67,174.18 L201.73,173.68 L201.80,173.18 L201.86,172.69 L201.93,172.19 L202.00,171.69 L202.06,171.20 L202.13,170.70 L202.19,170.20 L202.26,169.71 L202.33,169.21 L202.39,168.72 L202.46,168.22 L202.53,167.72 L202.60,167.23 L202.66,166.73 L202.73,166.24 L202.80,165.74 L202.87,165.25 L202.93,164.75 L203.00,164.26 L203.07,163.76 L203.14,163.26 L203.21,162.77 L203.28,162.27 L203.34,161.78 L203.41,161.29 L203.48,160.79 L203.55,160.30 L203.62,159.80 L203.69,159.31 L203.76,158.81 L203.83,158.32 L203.90,157.83 L203.97,157.33 L204.04,156.84 L204.11,156.34 L204.18,155.85 L204.25,155.36 L204.32,154.86 L204.39,154.37 L204.46,153.88 L204.53,153.38 L204.61,152.89 L204.68,152.40 L204.75,151.91 L204.82,151.41 L204.89,150.92 L204.97,150.43 L205.04,149.94 L205.11,149.45 L205.18,148.95 L205.26,148.46 L205.33,147.97 L205.40,147.48 L205.47,146.99 L205.55,146.50 L205.62,146.00 L205.69,145.51 L205.77,145.02 L205.84,144.53 L205.92,144.04 L205.99,143.55 L206.07,143.06 L206.14,142.57 L206.22,142.08 L206.29,141.59 L206.37,141.10 L206.44,140.61 L206.52,140.12 L206.59,139.63 L206.67,139.14 L206.74,138.66 L206.82,138.17 L206.90,137.68 L206.97,137.19 L207.05,136.70 L207.13,136.21 L207.20,135.72 L207.28,135.24 L207.36,134.75 L207.44,134.26 L207.51,133.77 L207.59,133.29 L207.67,132.80 L207.75,132.31 L207.83,131.83 L207.90,131.34 L207.98,130.85 L208.06,130.37 L208.14,129.88 L208.22,129.39 L208.30,128.91 L208.38,128.42 L208.46,127.94 L208.54,127.45 L208.62,126.97 L208.70,126.48 L208.78,126.00 L208.86,125.51 L208.94,125.03 L209.02,124.54 L209.11,124.06 L209.19,123.58 L209.27,123.09 L209.35,122.61 L209.43,122.12 L209.51,121.64 L209.59,121.16 L209.68,120.67 L209.76,120.19 L209.84,119.70 L209.92,119.22 L210.00,118.73 L210.08,118.24 L210.16,117.76 L210.24,117.27 L210.32,116.78 L210.40,116.30 L210.47,115.81 L210.55,115.32 L210.63,114.83 L210.71,114.34 L210.78,113.85 L210.86,113.35 L210.93,112.86 L211.01,112.37 L211.08,111.87 L211.15,111.38 L211.22,110.88 L211.29,110.38 L211.36,109.88 L211.43,109.38 L211.50,108.88 L211.57,108.38 L211.63,107.88 L211.70,107.37 L211.76,106.87 L211.82,106.36 L211.88,105.85 L211.94,105.34 L212.00,104.83 L212.06,104.31 L212.11,103.80 L212.17,103.28 L212.22,102.76 L212.27,102.24 L212.33,101.72 L212.38,101.20 L212.43,100.67 L212.48,100.15 L212.53,99.62 L212.58,99.10 L212.63,98.57 L212.68,98.04 L212.74,97.51 L212.79,96.98 L212.85,96.46 L212.91,95.93 L212.98,95.40 L213.04,94.87 L213.11,94.34 L213.18,93.81 L213.26,93.29 L213.34,92.76 L213.42,92.23 L213.51,91.71 L213.60,91.18 L213.70,90.66 L213.80,90.14 L213.91,89.62 L214.03,89.10 L214.15,88.58 L214.27,88.07 L214.41,87.56 L214.55,87.05 L214.69,86.54 L214.85,86.03 L215.01,85.53 L215.18,85.03 L215.36,84.53 L215.55,84.03 L215.75,83.54 L215.95,83.05 L216.17,82.56 L216.39,82.08 L216.63,81.60 L216.87,81.12 L217.12,80.65 L217.39,80.19 L217.65,79.74 L217.93,79.29 L218.22,78.85 L218.51,78.43 L218.81,78.01 L219.11,77.61 L219.42,77.23 L219.74,76.85 L220.06,76.49 L220.38,76.15 L220.72,75.83 L221.05,75.52 L221.39,75.24 L221.73,74.97 L222.08,74.73 L222.43,74.50 L222.78,74.30 L223.13,74.13 L223.48,73.98 L223.84,73.85 L224.20,73.75 L224.55,73.68 L224.91,73.64 L225.27,73.63 L225.63,73.65 L225.98,73.70 L226.34,73.78 L226.69,73.90 L227.04,74.05 L227.39,74.24 L227.74,74.45 L228.08,74.70 L228.43,74.98 L228.77,75.29 L229.11,75.62 L229.44,75.98 L229.77,76.36 L230.10,76.76 L230.43,77.18 L230.75,77.62 L231.07,78.08 L231.38,78.55 L231.69,79.04 L232.00,79.54 L232.31,80.06 L232.61,80.58 L232.90,81.11 L233.19,81.64 L233.48,82.18 L233.76,82.73 L234.04,83.28 L234.32,83.82 L234.58,84.37 L234.85,84.91 L235.11,85.45 L235.36,85.99 L235.61,86.51 L235.85,87.04 L236.09,87.55 L236.33,88.06 L236.55,88.57 L236.78,89.07 L237.00,89.56 L237.22,90.06 L237.43,90.54 L237.64,91.02 L237.85,91.50 L238.05,91.98 L238.25,92.45 L238.45,92.92 L238.65,93.38 L238.84,93.84 L239.03,94.30 L239.22,94.76 L239.40,95.21 L239.59,95.66 L239.77,96.11 L239.95,96.56 L240.13,97.01 L240.31,97.46 L240.49,97.90 L240.66,98.35 L240.84,98.79 L241.02,99.23 L241.19,99.68 L241.37,100.12 L241.54,100.57 L241.72,101.01 L241.90,101.46 L242.07,101.90 L242.25,102.35 L242.43,102.80 L242.61,103.25 L242.79,103.70 L242.97,104.15 L243.15,104.60 L243.34,105.05 L243.52,105.51 L243.70,105.96 L243.89,106.42 L244.07,106.87 L244.26,107.33 L244.45,107.79 L244.64,108.25 L244.82,108.70 L245.01,109.16 L245.20,109.62 L245.40,110.08 L245.59,110.54 L245.78,111.00 L245.97,111.47 L246.17,111.93 L246.36,112.39 L246.56,112.85 L246.76,113.31 L246.96,113.77 L247.16,114.24 L247.36,114.70 L247.56,115.16 L247.76,115.62 L247.96,116.09 L248.17,116.55 L248.37,117.01 L248.58,117.47 L248.78,117.94 L248.99,118.40 L249.20,118.86 L249.41,119.32 L249.62,119.78 L249.83,120.24 L250.05,120.70 L250.26,121.16 L250.47,121.62 L250.69,122.08 L250.91,122.54 L251.13,123.00 L251.34,123.46 L251.57,123.91 L251.79,124.37 L252.01,124.82 L252.23,125.28 L252.46,125.73 L252.68,126.19 L252.91,126.64 L253.14,127.09 L253.37,127.54 L253.60,127.99 L253.83,128.44 L254.06,128.89 L254.30,129.33 L254.53,129.78 L254.77,130.22 L255.00,130.66 L255.24,131.11 L255.48,131.55 L255.72,131.99 L255.97,132.43 L256.21,132.86 L256.45,133.30 L256.70,133.73 L256.95,134.16 L257.20,134.60 L257.45,135.02 L257.70,135.45 L257.95,135.88 L258.20,136.30 L258.46,136.73 L258.71,137.15 L258.97,137.57 L259.23,137.99 L259.49,138.41 L259.75,138.83 L260.01,139.24 L260.28,139.66 L260.54,140.07 L260.81,140.49 L261.07,140.90 L261.34,141.31 L261.61,141.72 L261.88,142.13 L262.15,142.54 L262.43,142.94 L262.70,143.35 L262.98,143.75 L263.25,144.16 L263.53,144.56 L263.81,144.97 L264.09,145.37 L264.37,145.77 L264.65,146.17 L264.93,146.57 L265.22,146.97 L265.50,147.37 L265.79,147.77 L266.08,148.17 L266.37,148.56 L266.65,148.96 L266.95,149.36 L267.24,149.75 L267.53,150.15 L267.82,150.55 L268.12,150.94 L268.41,151.34 L268.71,151.73 L269.01,152.13 L269.31,152.52 L269.61,152.92 L269.91,153.31 L270.21,153.71 L270.51,154.10 L270.81,154.50 L271.12,154.89 L271.42,155.29 L271.73,155.68 L272.04,156.08 L272.35,156.47 L272.65,156.87 L272.96,157.26 L273.28,157.66 L273.59,158.06 L273.90,158.45 L274.21,158.85 L274.53,159.25 L274.84,159.65 L275.16,160.05 L275.48,160.44 L275.80,160.84 L276.11,161.24 L276.43,161.65 L276.76,162.05 L277.08,162.45 L277.40,162.85 L277.72,163.25 L278.05,163.66 L278.37,164.06 L278.70,164.46 L279.03,164.86 L279.36,165.26 L279.69,165.66 L280.02,166.06 L280.35,166.46 L280.69,166.85 L281.02,167.25 L281.36,167.64 L281.70,168.02 L282.04,168.41 L282.39,168.79 L282.73,169.17 L283.08,169.55 L283.43,169.93 L283.78,170.30 L284.14,170.66 L284.49,171.03 L284.85,171.38 L285.21,171.74 L285.57,172.09 L285.94,172.43 L286.31,172.77 L286.68,173.10 L287.05,173.43 L287.43,173.76 L287.81,174.07 L288.19,174.38 L288.57,174.69 L288.96,174.99 L289.35,175.28 L289.75,175.56 L290.14,175.84 L290.54,176.11 L290.95,176.37 L291.36,176.63 L291.77,176.87 L292.18,177.11 L292.60,177.34 L293.02,177.56 L293.44,177.78 L293.87,177.98 L294.30,178.17 L294.74,178.36 L295.18,178.53 L295.62,178.70 L296.07,178.85 L296.52,179.00 L296.98,179.14 L297.44,179.26 L297.90,179.38 L298.37,179.49 L298.83,179.59 L299.31,179.68 L299.78,179.77 L300.26,179.84 L300.74,179.91 L301.22,179.96 L301.70,180.02 L302.19,180.06 L302.68,180.09 L303.17,180.12 L303.66,180.14 L304.16,180.15 L304.66,180.16 L305.15,180.15 L305.65,180.15 L306.16,180.13 L306.66,180.11 L307.16,180.08 L307.66,180.04 L308.17,180.00 L308.68,179.96 L309.18,179.90 L309.69,179.85 L310.20,179.78 L310.70,179.71 L311.21,179.64 L311.72,179.56 L312.23,179.47 L312.73,179.38 L313.24,179.29 L313.75,179.19 L314.25,179.08 L314.76,178.97 L315.26,178.86 L315.76,178.75 L316.26,178.62 L316.77,178.50 L317.26,178.37 L317.76,178.24 L318.26,178.11 L318.75,177.97 L319.25,177.83 L319.74,177.68 L320.23,177.54 L320.72,177.39 L321.20,177.23 L321.69,177.08 L322.17,176.92 L322.65,176.76 L323.13,176.59 L323.60,176.42 L324.08,176.25 L324.55,176.08 L325.03,175.90 L325.50,175.72 L325.97,175.54 L326.43,175.35 L326.90,175.16 L327.36,174.97 L327.82,174.78 L328.28,174.58 L328.74,174.38 L329.20,174.18 L329.65,173.98 L330.11,173.77 L330.56,173.56 L331.01,173.34 L331.46,173.13 L331.90,172.91 L332.35,172.69 L332.79,172.46 L333.23,172.24 L333.67,172.01 L334.11,171.78 L334.55,171.54 L334.98,171.31 L335.42,171.07 L335.85,170.83 L336.28,170.58 L336.71,170.33 L337.13,170.09 L337.56,169.83 L337.98,169.58 L338.41,169.32 L338.83,169.06 L339.25,168.80 L339.66,168.54 L340.08,168.27 L340.49,168.01 L340.91,167.74 L341.32,167.46 L341.73,167.19 L342.13,166.91 L342.54,166.63 L342.94,166.35 L343.35,166.06 L343.75,165.78 L344.15,165.49 L344.55,165.20 L344.94,164.91 L345.34,164.61 L345.73,164.31 L346.13,164.02 L346.52,163.71 L346.91,163.41 L347.29,163.11 L347.68,162.80 L348.06,162.49 L348.45,162.18 L348.83,161.87 L349.21,161.55 L349.59,161.23 L349.97,160.91 L350.34,160.59 L350.71,160.27 L351.09,159.95 L351.46,159.62 L351.83,159.29 L352.20,158.96 L352.56,158.63 L352.93,158.29 L353.29,157.96 L353.65,157.62 L354.01,157.28 L354.37,156.94 L354.73,156.60 L355.09,156.25 L355.44,155.91 L355.80,155.56 L356.15,155.21 L356.50,154.86 L356.85,154.51 L357.20,154.15 L357.54,153.80 L357.89,153.44 L358.23,153.08 L358.57,152.72 L358.91,152.36 L359.25,152.00 L359.59,151.63 L359.93,151.27 L360.26,150.90 L360.60,150.53 L360.93,150.16 L361.26,149.79 L361.59,149.41 L361.92,149.04 L362.25,148.66 L362.57,148.29 L362.90,147.91 L363.22,147.53 L363.54,147.15 L363.86,146.76 L364.18,146.38 L364.50,145.99 L364.81,145.61 L365.13,145.22 L365.44,144.83 L365.75,144.44 L366.06,144.05 L366.37,143.66 L366.68,143.27 L366.99,142.87 L367.29,142.48 L367.60,142.08 L367.90,141.68 L368.20,141.28 L368.50,140.89 L368.80,140.48 L369.10,140.08 L369.39,139.68 L369.69,139.28 L369.98,138.87 L370.27,138.47 L370.57,138.06 L370.85,137.65 L371.14,137.25 L371.43,136.84 L371.72,136.43 L372.00,136.02 L372.29,135.61 L372.57,135.20 L372.85,134.78 L373.13,134.37 L373.41,133.95 L373.69,133.54 L373.97,133.12 L374.24,132.71 L374.52,132.29 L374.79,131.87 L375.07,131.45 L375.34,131.03 L375.61,130.61 L375.88,130.19 L376.15,129.77 L376.42,129.35 L376.69,128.93 L376.95,128.50 L377.22,128.08 L377.48,127.66 L377.75,127.23 L378.01,126.81 L378.27,126.38 L378.54,125.95 L378.80,125.53 L379.06,125.10 L379.32,124.67 L379.58,124.24 L379.84,123.81 L380.09,123.38 L380.35,122.95 L380.61,122.52 L380.86,122.09 L381.12,121.66 L381.37,121.23 L381.63,120.80 L381.88,120.37 L382.14,119.93 L382.39,119.50 L382.64,119.07 L382.89,118.63 L383.14,118.20 L383.40,117.77 L383.65,117.33 L383.90,116.90 L384.15,116.46 L384.40,116.03 L384.65,115.59 L384.89,115.16 L385.14,114.72 L385.39,114.28 L385.64,113.85 L385.89,113.41 L386.14,112.98 L386.38,112.54 L386.63,112.10 L386.88,111.67 L387.12,111.23 L387.37,110.79 L387.62,110.36 L387.86,109.92 L388.11,109.48 L388.36,109.04 L388.60,108.61 L388.85,108.17 L389.10,107.73 L389.34,107.30 L389.59,106.86 L389.84,106.42 L390.08,105.99 L390.33,105.55 L390.58,105.11 L390.82,104.68 L391.07,104.24 L391.32,103.80 L391.56,103.37 L391.81,102.93 L392.06,102.49 L392.31,102.06 L392.56,101.62 L392.80,101.19 L393.05,100.75 L393.30,100.32 L393.55,99.88 L393.80,99.45 L394.05,99.02 L394.30,98.58 L394.55,98.15 L394.80,97.71 L395.05,97.28 L395.31,96.85 L395.56,96.42 L395.81,95.99 L396.07,95.55 L396.32,95.12 L396.57,94.69 L396.83,94.26 L397.08,93.83 L397.34,93.40 L397.60,92.97 L397.85,92.54 L398.11,92.12 L398.37,91.69 L398.63,91.26 L398.89,90.84 L399.15,90.41 L399.41,89.98 L399.67,89.56 L399.94,89.13 L400.20,88.71 L400.47,88.29 L400.73,87.86 L401.00,87.44 L401.26,87.02 L401.53,86.60 L401.80,86.18 L402.07,85.76 L402.34,85.34 L402.61,84.92 L402.88,84.51 L403.16,84.09 L403.43,83.67 L403.71,83.26 L403.98,82.84 L404.26,82.43 L404.54,82.02 L404.82,81.61 L405.10,81.20 L405.38,80.78 L405.67,80.38 L405.95,79.97 L406.24,79.56 L406.52,79.15 L406.81,78.75 L407.10,78.34 L407.39,77.94 L407.68,77.53 L407.97,77.13 L408.27,76.73 L408.56,76.33 L408.86,75.93 L409.16,75.53 L409.46,75.13 L409.76,74.74 L410.06,74.34 L410.36,73.95 L410.67,73.55 L410.97,73.16 L411.28,72.77 L411.59,72.38 L411.90,71.99 L412.21,71.60 L412.53,71.21 L412.84,70.83 L413.16,70.44 L413.48,70.06 L413.80,69.68 L414.12,69.30 L414.44,68.92 L414.77,68.54 L415.10,68.16 L415.42,67.78 L415.76,67.41 L416.09,67.04 L416.42,66.66 L416.76,66.29 L417.09,65.92 L417.43,65.55 L417.77,65.19 L418.11,64.82 L418.46,64.46 L418.80,64.09 L419.15,63.73 L419.50,63.37 L419.85,63.01 L420.20,62.66 L420.55,62.30 L420.91,61.95 L421.27,61.60 L421.62,61.25 L421.98,60.90 L422.34,60.55 L422.71,60.20 L423.07,59.86 L423.44,59.52 L423.81,59.18 L424.18,58.84 L424.55,58.50 L424.92,58.16 L425.29,57.83 L425.67,57.50 L426.05,57.17 L426.42,56.84 L426.80,56.51 L427.19,56.19 L427.57,55.86 L427.95,55.54 L428.34,55.22 L428.73,54.91 L429.12,54.59 L429.51,54.28 L429.90,53.97 L430.29,53.66 L430.69,53.35 L431.09,53.04 L431.48,52.74 L431.88,52.44 L432.29,52.14 L432.69,51.84 L433.09,51.55 L433.50,51.26 L433.90,50.97 L434.31,50.68 L434.72,50.39 L435.13,50.11 L435.55,49.83 L435.96,49.55 L436.38,49.27 L436.79,49.00 L437.21,48.72 L437.63,48.45 L438.05,48.19 L438.47,47.92 L438.90,47.66 L439.32,47.40 L439.75,47.14 L440.18,46.88 L440.61,46.63 L441.04,46.38 L441.47,46.13 L441.90,45.88 L442.34,45.64 L442.77,45.40 L443.21,45.16 L443.65,44.93 L444.09,44.69 L444.53,44.46 L444.97,44.24 L445.42,44.01 L445.86,43.79 L446.31,43.57 L446.76,43.35 L447.20,43.14 L447.65,42.93 L448.11,42.72 L448.56,42.51 L449.01,42.31 L449.47,42.11 L449.93,41.91 L450.38,41.72 L450.84,41.53 L451.30,41.34 L451.76,41.15 L452.23,40.97 L452.69,40.79 L453.16,40.61 L453.62,40.44 L454.09,40.27 L454.56,40.10 L455.03,39.94 L455.50,39.77 L455.97,39.62 L456.45,39.46 L456.92,39.31 L457.40,39.16 L457.87,39.01 L458.35,38.87 L458.83,38.73 L459.31,38.59 L459.79,38.46 L460.28,38.33 L460.76,38.21 L461.25,38.08 L461.73,37.96 L462.22,37.85 L462.71,37.73 L463.20,37.62 L463.69,37.52 L464.18,37.41 L464.67,37.31 L465.17,37.22 L465.66,37.12 L466.16,37.03 L466.65,36.95 L467.15,36.87 L467.65,36.79 L468.15,36.71 L468.65,36.64 L469.16,36.57 L469.66,36.51 L470.16,36.45 L470.67,36.39 L471.17,36.34 L471.68,36.29 L472.19,36.24 L472.70,36.20" fill="none" stroke="#ee2a2e" stroke-width="1.8" stroke-linejoin="round" stroke-linecap="round"/>
<path d="M75.00,350.60 L176.00,350.60 L176.55,350.67 L177.09,350.70 L177.62,350.71 L178.13,350.69 L178.62,350.65 L179.10,350.58 L179.57,350.49 L180.02,350.37 L180.46,350.23 L180.88,350.07 L181.29,349.89 L181.68,349.68 L182.06,349.47 L182.43,349.23 L182.79,348.98 L183.13,348.71 L183.45,348.43 L183.77,348.13 L184.07,347.83 L184.36,347.51 L184.63,347.18 L184.90,346.84 L185.15,346.49 L185.39,346.14 L185.62,345.77 L185.83,345.40 L186.04,345.01 L186.24,344.62 L186.43,344.22 L186.60,343.82 L186.77,343.40 L186.94,342.98 L187.09,342.56 L187.23,342.13 L187.37,341.69 L187.50,341.25 L187.63,340.80 L187.75,340.35 L187.86,339.89 L187.97,339.43 L188.07,338.96 L188.17,338.50 L188.26,338.02 L188.35,337.55 L188.44,337.07 L188.52,336.60 L188.60,336.12 L188.68,335.64 L188.76,335.15 L188.83,334.67 L188.91,334.19 L188.98,333.70 L189.05,333.22 L189.12,332.74 L189.20,332.25 L189.27,331.77 L189.34,331.29 L189.42,330.81 L189.49,330.33 L189.56,329.85 L189.64,329.37 L189.71,328.90 L189.78,328.42 L189.86,327.94 L189.93,327.46 L190.00,326.99 L190.08,326.51 L190.15,326.04 L190.23,325.56 L190.30,325.09 L190.37,324.62 L190.45,324.15 L190.52,323.67 L190.60,323.20 L190.67,322.73 L190.74,322.26 L190.82,321.79 L190.89,321.32 L190.97,320.85 L191.04,320.38 L191.12,319.91 L191.19,319.45 L191.27,318.98 L191.34,318.51 L191.42,318.05 L191.49,317.58 L191.57,317.12 L191.64,316.65 L191.72,316.19 L191.79,315.72 L191.87,315.26 L191.94,314.80 L192.02,314.33 L192.10,313.87 L192.17,313.41 L192.25,312.95 L192.32,312.49 L192.40,312.02 L192.47,311.56 L192.55,311.10 L192.63,310.64 L192.70,310.18 L192.78,309.72 L192.85,309.27 L192.93,308.81 L193.01,308.35 L193.08,307.89 L193.16,307.43 L193.23,306.98 L193.31,306.52 L193.39,306.06 L193.46,305.61 L193.54,305.15 L193.62,304.70 L193.69,304.24 L193.77,303.78 L193.85,303.33 L193.92,302.88 L194.00,302.42 L194.08,301.97 L194.15,301.51 L194.23,301.06 L194.31,300.61 L194.38,300.15 L194.46,299.70 L194.54,299.25 L194.61,298.79 L194.69,298.34 L194.77,297.89 L194.84,297.44 L194.92,296.99 L195.00,296.53 L195.08,296.08 L195.15,295.63 L195.23,295.18 L195.31,294.73 L195.38,294.28 L195.46,293.83 L195.54,293.38 L195.62,292.93 L195.69,292.48 L195.77,292.03 L195.85,291.58 L195.92,291.13 L196.00,290.68 L196.08,290.23 L196.16,289.78 L196.23,289.33 L196.31,288.88 L196.39,288.43 L196.47,287.98 L196.54,287.53 L196.62,287.08 L196.70,286.63 L196.78,286.18 L196.85,285.74 L196.93,285.29 L197.01,284.84 L197.08,284.39 L197.16,283.94 L197.24,283.49 L197.32,283.04 L197.39,282.59 L197.47,282.14 L197.55,281.70 L197.63,281.25 L197.70,280.80 L197.78,280.35 L197.86,279.90 L197.94,279.45 L198.01,279.00 L198.09,278.55 L198.17,278.10 L198.25,277.65 L198.32,277.21 L198.40,276.76 L198.48,276.31 L198.55,275.86 L198.63,275.41 L198.71,274.96 L198.79,274.51 L198.86,274.06 L198.94,273.61 L199.02,273.16 L199.09,272.71 L199.17,272.26 L199.25,271.81 L199.33,271.36 L199.40,270.91 L199.48,270.45 L199.56,270.00 L199.63,269.55 L199.71,269.10 L199.79,268.65 L199.87,268.20 L199.94,267.75 L200.02,267.29 L200.10,266.84 L200.17,266.39 L200.25,265.94 L200.33,265.48 L200.40,265.03 L200.48,264.58 L200.56,264.12 L200.63,263.67 L200.71,263.21 L200.79,262.76 L200.86,262.31 L200.94,261.85 L201.02,261.40 L201.09,260.94 L201.17,260.48 L201.24,260.03 L201.32,259.57 L201.40,259.12 L201.47,258.66 L201.55,258.20 L201.63,257.74 L201.70,257.29 L201.78,256.83 L201.85,256.37 L201.93,255.91 L202.01,255.45 L202.08,254.99 L202.16,254.53 L202.23,254.08 L202.31,253.62 L202.38,253.16 L202.46,252.70 L202.54,252.24 L202.61,251.77 L202.69,251.31 L202.76,250.85 L202.84,250.39 L202.91,249.93 L202.99,249.47 L203.07,249.01 L203.14,248.54 L203.22,248.08 L203.29,247.62 L203.37,247.16 L203.44,246.69 L203.52,246.23 L203.59,245.77 L203.67,245.31 L203.74,244.84 L203.82,244.38 L203.89,243.91 L203.97,243.45 L204.05,242.99 L204.12,242.52 L204.20,242.06 L204.27,241.59 L204.35,241.13 L204.42,240.66 L204.50,240.20 L204.57,239.73 L204.65,239.27 L204.72,238.80 L204.80,238.33 L204.87,237.87 L204.95,237.40 L205.02,236.94 L205.10,236.47 L205.17,236.00 L205.25,235.54 L205.32,235.07 L205.40,234.60 L205.47,234.14 L205.55,233.67 L205.62,233.20 L205.70,232.74 L205.77,232.27 L205.85,231.80 L205.92,231.34 L206.00,230.87 L206.08,230.40 L206.15,229.93 L206.23,229.46 L206.30,229.00 L206.38,228.53 L206.45,228.06 L206.53,227.59 L206.60,227.13 L206.68,226.66 L206.75,226.19 L206.83,225.72 L206.90,225.25 L206.98,224.79 L207.05,224.32 L207.13,223.85 L207.20,223.38 L207.28,222.91 L207.35,222.44 L207.43,221.98 L207.51,221.51 L207.58,221.04 L207.66,220.57 L207.73,220.10 L207.81,219.63 L207.88,219.16 L207.96,218.70 L208.03,218.23 L208.11,217.76 L208.19,217.29 L208.26,216.82 L208.34,216.35 L208.41,215.89 L208.49,215.42 L208.56,214.95 L208.64,214.48 L208.72,214.01 L208.79,213.54 L208.87,213.08 L208.94,212.61 L209.02,212.14 L209.09,211.67 L209.17,211.20 L209.25,210.74 L209.32,210.27 L209.40,209.80 L209.48,209.33 L209.55,208.87 L209.63,208.40 L209.70,207.93 L209.78,207.46 L209.86,207.00 L209.93,206.53 L210.01,206.06 L210.09,205.59 L210.16,205.13 L210.24,204.66 L210.32,204.19 L210.39,203.73 L210.47,203.26 L210.55,202.79 L210.62,202.33 L210.70,201.86 L210.78,201.39 L210.85,200.93 L210.93,200.46 L211.01,200.00 L211.08,199.53 L211.16,199.07 L211.24,198.60 L211.32,198.13 L211.39,197.67 L211.47,197.20 L211.55,196.74 L211.63,196.27 L211.70,195.81 L211.78,195.35 L211.86,194.88 L211.94,194.42 L212.01,193.95 L212.09,193.49 L212.17,193.03 L212.25,192.56 L212.33,192.10 L212.40,191.64 L212.48,191.17 L212.56,190.71 L212.64,190.25 L212.72,189.79 L212.80,189.33 L212.87,188.86 L212.95,188.40 L213.03,187.94 L213.11,187.48 L213.19,187.02 L213.27,186.56 L213.35,186.10 L213.43,185.64 L213.51,185.18 L213.58,184.72 L213.66,184.26 L213.74,183.80 L213.82,183.34 L213.90,182.88 L213.98,182.42 L214.06,181.96 L214.14,181.51 L214.22,181.05 L214.30,180.59 L214.38,180.13 L214.46,179.68 L214.54,179.22 L214.62,178.76 L214.70,178.31 L214.78,177.85 L214.86,177.40 L214.94,176.94 L215.02,176.49 L215.10,176.03 L215.19,175.58 L215.27,175.12 L215.35,174.67 L215.43,174.21 L215.51,173.76 L215.59,173.31 L215.67,172.86 L215.75,172.40 L215.84,171.95 L215.92,171.50 L216.00,171.05 L216.08,170.60 L216.16,170.15 L216.24,169.70 L216.33,169.25 L216.41,168.80 L216.49,168.35 L216.57,167.90 L216.66,167.45 L216.74,167.00 L216.82,166.55 L216.91,166.11 L216.99,165.66 L217.07,165.21 L217.15,164.77 L217.24,164.32 L217.32,163.88 L217.41,163.43 L217.49,162.99 L217.57,162.54 L217.66,162.10 L217.74,161.65 L217.83,161.21 L217.91,160.76 L217.99,160.32 L218.08,159.88 L218.16,159.44 L218.25,158.99 L218.33,158.55 L218.42,158.11 L218.50,157.66 L218.59,157.22 L218.67,156.78 L218.76,156.34 L218.85,155.90 L218.93,155.45 L219.02,155.01 L219.11,154.57 L219.19,154.13 L219.28,153.68 L219.37,153.24 L219.45,152.80 L219.54,152.36 L219.63,151.91 L219.72,151.47 L219.80,151.03 L219.89,150.59 L219.98,150.14 L220.07,149.70 L220.16,149.25 L220.25,148.81 L220.33,148.37 L220.42,147.92 L220.51,147.48 L220.60,147.03 L220.69,146.59 L220.78,146.14 L220.87,145.69 L220.96,145.25 L221.05,144.80 L221.15,144.35 L221.24,143.90 L221.33,143.46 L221.42,143.01 L221.51,142.56 L221.60,142.11 L221.70,141.66 L221.79,141.21 L221.88,140.75 L221.98,140.30 L222.07,139.85 L222.16,139.40 L222.26,138.94 L222.35,138.49 L222.45,138.03 L222.54,137.58 L222.64,137.12 L222.73,136.66 L222.83,136.20 L222.92,135.74 L223.02,135.28 L223.12,134.82 L223.21,134.36 L223.31,133.90 L223.41,133.44 L223.51,132.97 L223.60,132.51 L223.70,132.04 L223.80,131.57 L223.90,131.11 L224.00,130.64 L224.10,130.17 L224.20,129.70 L224.30,129.22 L224.40,128.75 L224.50,128.28 L224.60,127.80 L224.70,127.33 L224.80,126.85 L224.91,126.37 L225.01,125.89 L225.11,125.41 L225.22,124.93 L225.32,124.44 L225.42,123.96 L225.53,123.47 L225.63,122.99 L225.74,122.50 L225.84,122.01 L225.95,121.52 L226.05,121.03 L226.16,120.53 L226.27,120.04 L226.37,119.54 L226.48,119.05 L226.59,118.55 L226.70,118.05 L226.81,117.55 L226.92,117.05 L227.03,116.55 L227.15,116.04 L227.26,115.54 L227.38,115.04 L227.50,114.54 L227.62,114.05 L227.75,113.55 L227.87,113.05 L228.00,112.56 L228.13,112.07 L228.27,111.57 L228.41,111.09 L228.55,110.60 L228.70,110.12 L228.85,109.64 L229.00,109.16 L229.16,108.69 L229.32,108.22 L229.49,107.75 L229.66,107.29 L229.83,106.83 L230.01,106.38 L230.20,105.93 L230.39,105.48 L230.59,105.05 L230.79,104.61 L231.00,104.18 L231.22,103.76 L231.44,103.35 L231.67,102.94 L231.90,102.54 L232.14,102.14 L232.39,101.75 L232.65,101.37 L232.91,100.99 L233.18,100.63 L233.46,100.27 L233.75,99.92 L234.04,99.58 L234.34,99.25 L234.64,98.92 L234.95,98.61 L235.27,98.31 L235.59,98.02 L235.92,97.74 L236.25,97.48 L236.59,97.22 L236.93,96.98 L237.28,96.76 L237.63,96.54 L237.98,96.34 L238.34,96.16 L238.70,95.99 L239.07,95.83 L239.44,95.70 L239.81,95.57 L240.18,95.47 L240.55,95.38 L240.93,95.31 L241.31,95.26 L241.69,95.23 L242.07,95.21 L242.46,95.21 L242.84,95.23 L243.23,95.26 L243.61,95.31 L244.00,95.38 L244.39,95.46 L244.78,95.55 L245.17,95.66 L245.56,95.78 L245.95,95.92 L246.34,96.07 L246.73,96.23 L247.12,96.41 L247.52,96.60 L247.91,96.80 L248.30,97.01 L248.69,97.23 L249.08,97.46 L249.47,97.70 L249.86,97.95 L250.25,98.21 L250.64,98.48 L251.02,98.75 L251.41,99.04 L251.79,99.33 L252.18,99.63 L252.56,99.94 L252.94,100.25 L253.32,100.57 L253.70,100.90 L254.07,101.23 L254.45,101.56 L254.82,101.90 L255.19,102.24 L255.55,102.59 L255.92,102.94 L256.28,103.29 L256.64,103.65 L257.00,104.01 L257.36,104.37 L257.71,104.73 L258.06,105.09 L258.40,105.45 L258.75,105.82 L259.09,106.18 L259.43,106.55 L259.77,106.92 L260.10,107.29 L260.44,107.66 L260.77,108.03 L261.09,108.41 L261.42,108.78 L261.75,109.16 L262.07,109.53 L262.39,109.91 L262.71,110.29 L263.02,110.67 L263.34,111.05 L263.65,111.43 L263.96,111.81 L264.27,112.19 L264.58,112.57 L264.89,112.95 L265.19,113.34 L265.50,113.72 L265.80,114.10 L266.10,114.49 L266.40,114.87 L266.70,115.25 L267.00,115.64 L267.30,116.02 L267.59,116.41 L267.89,116.79 L268.18,117.18 L268.48,117.56 L268.77,117.94 L269.06,118.33 L269.35,118.71 L269.64,119.09 L269.93,119.48 L270.22,119.86 L270.51,120.24 L270.80,120.62 L271.09,121.00 L271.37,121.38 L271.66,121.76 L271.95,122.14 L272.24,122.52 L272.52,122.89 L272.81,123.27 L273.10,123.64 L273.39,124.02 L273.67,124.39 L273.96,124.76 L274.25,125.13 L274.54,125.50 L274.83,125.87 L275.12,126.24 L275.41,126.60 L275.70,126.97 L275.99,127.33 L276.28,127.69 L276.57,128.05 L276.86,128.41 L277.16,128.77 L277.45,129.12 L277.75,129.48 L278.05,129.83 L278.34,130.18 L278.64,130.53 L278.94,130.87 L279.24,131.22 L279.54,131.56 L279.85,131.90 L280.15,132.24 L280.46,132.57 L280.77,132.91 L281.08,133.24 L281.39,133.57 L281.70,133.89 L282.01,134.22 L282.33,134.54 L282.65,134.86 L282.97,135.18 L283.29,135.49 L283.61,135.80 L283.94,136.11 L284.26,136.42 L284.59,136.72 L284.92,137.02 L285.26,137.32 L285.59,137.61 L285.93,137.90 L286.27,138.19 L286.62,138.48 L286.96,138.76 L287.31,139.04 L287.66,139.32 L288.02,139.59 L288.37,139.86 L288.73,140.12 L289.09,140.39 L289.46,140.64 L289.83,140.90 L290.20,141.15 L290.57,141.40 L290.95,141.64 L291.33,141.88 L291.71,142.12 L292.10,142.35 L292.49,142.58 L292.88,142.81 L293.28,143.03 L293.68,143.25 L294.08,143.46 L294.49,143.67 L294.90,143.87 L295.31,144.07 L295.73,144.27 L296.15,144.46 L296.57,144.64 L297.00,144.82 L297.43,144.99 L297.86,145.16 L298.29,145.31 L298.73,145.47 L299.17,145.61 L299.61,145.75 L300.05,145.88 L300.49,146.01 L300.94,146.12 L301.38,146.23 L301.83,146.33 L302.28,146.42 L302.73,146.50 L303.18,146.57 L303.63,146.63 L304.09,146.69 L304.54,146.73 L304.99,146.76 L305.45,146.79 L305.91,146.81 L306.36,146.81 L306.82,146.82 L307.28,146.81 L307.73,146.79 L308.19,146.77 L308.65,146.74 L309.11,146.71 L309.57,146.67 L310.03,146.62 L310.49,146.57 L310.95,146.52 L311.41,146.46 L311.87,146.39 L312.33,146.32 L312.79,146.25 L313.25,146.17 L313.71,146.09 L314.17,146.01 L314.63,145.92 L315.09,145.83 L315.55,145.74 L316.01,145.65 L316.47,145.56 L316.92,145.46 L317.38,145.36 L317.84,145.26 L318.30,145.16 L318.76,145.05 L319.21,144.95 L319.67,144.84 L320.13,144.73 L320.58,144.62 L321.04,144.50 L321.49,144.39 L321.95,144.27 L322.40,144.15 L322.86,144.03 L323.31,143.90 L323.77,143.78 L324.22,143.65 L324.67,143.52 L325.12,143.39 L325.58,143.26 L326.03,143.12 L326.48,142.98 L326.93,142.85 L327.38,142.71 L327.83,142.56 L328.28,142.42 L328.73,142.28 L329.18,142.13 L329.63,141.98 L330.07,141.83 L330.52,141.68 L330.97,141.53 L331.41,141.37 L331.86,141.22 L332.30,141.06 L332.75,140.90 L333.19,140.74 L333.63,140.58 L334.08,140.41 L334.52,140.25 L334.96,140.08 L335.40,139.91 L335.84,139.75 L336.28,139.57 L336.72,139.40 L337.16,139.23 L337.59,139.05 L338.03,138.88 L338.47,138.70 L338.90,138.52 L339.34,138.34 L339.77,138.16 L340.20,137.98 L340.64,137.79 L341.07,137.61 L341.50,137.42 L341.93,137.24 L342.36,137.05 L342.79,136.86 L343.22,136.67 L343.65,136.47 L344.07,136.28 L344.50,136.09 L344.92,135.89 L345.35,135.69 L345.77,135.49 L346.20,135.29 L346.62,135.09 L347.04,134.89 L347.46,134.69 L347.88,134.48 L348.30,134.28 L348.72,134.07 L349.13,133.86 L349.55,133.65 L349.97,133.44 L350.38,133.23 L350.79,133.02 L351.21,132.80 L351.62,132.59 L352.03,132.37 L352.44,132.15 L352.85,131.93 L353.26,131.71 L353.67,131.49 L354.08,131.26 L354.48,131.04 L354.89,130.81 L355.29,130.59 L355.70,130.36 L356.10,130.13 L356.50,129.90 L356.90,129.66 L357.30,129.43 L357.70,129.19 L358.10,128.96 L358.50,128.72 L358.89,128.48 L359.29,128.24 L359.68,128.00 L360.08,127.76 L360.47,127.51 L360.86,127.27 L361.25,127.02 L361.64,126.77 L362.03,126.52 L362.42,126.27 L362.81,126.02 L363.19,125.77 L363.58,125.51 L363.96,125.25 L364.34,125.00 L364.72,124.74 L365.11,124.48 L365.49,124.22 L365.86,123.95 L366.24,123.69 L366.62,123.42 L366.99,123.16 L367.37,122.89 L367.74,122.62 L368.12,122.35 L368.49,122.07 L368.86,121.80 L369.23,121.53 L369.60,121.25 L369.96,120.97 L370.33,120.69 L370.69,120.41 L371.06,120.13 L371.42,119.85 L371.78,119.56 L372.14,119.27 L372.50,118.99 L372.86,118.70 L373.22,118.41 L373.58,118.12 L373.93,117.82 L374.29,117.53 L374.64,117.23 L374.99,116.93 L375.34,116.64 L375.69,116.34 L376.04,116.03 L376.39,115.73 L376.73,115.43 L377.08,115.12 L377.42,114.81 L377.76,114.50 L378.10,114.19 L378.45,113.88 L378.78,113.57 L379.12,113.26 L379.46,112.94 L379.79,112.62 L380.13,112.30 L380.46,111.98 L380.79,111.66 L381.12,111.34 L381.45,111.01 L381.78,110.69 L382.11,110.36 L382.43,110.03 L382.76,109.70 L383.08,109.37 L383.40,109.04 L383.72,108.70 L384.04,108.37 L384.36,108.03 L384.68,107.69 L384.99,107.35 L385.31,107.01 L385.62,106.66 L385.93,106.32 L386.24,105.97 L386.55,105.62 L386.86,105.28 L387.17,104.93 L387.47,104.57 L387.78,104.22 L388.08,103.87 L388.39,103.51 L388.69,103.16 L388.99,102.80 L389.29,102.44 L389.59,102.08 L389.89,101.73 L390.19,101.36 L390.49,101.00 L390.78,100.64 L391.08,100.28 L391.37,99.91 L391.67,99.55 L391.96,99.18 L392.26,98.82 L392.55,98.45 L392.84,98.08 L393.13,97.71 L393.42,97.35 L393.71,96.98 L394.00,96.61 L394.29,96.24 L394.58,95.87 L394.87,95.50 L395.16,95.13 L395.45,94.75 L395.74,94.38 L396.03,94.01 L396.32,93.64 L396.60,93.27 L396.89,92.89 L397.18,92.52 L397.47,92.15 L397.75,91.77 L398.04,91.40 L398.33,91.03 L398.62,90.66 L398.90,90.28 L399.19,89.91 L399.48,89.54 L399.77,89.17 L400.06,88.79 L400.34,88.42 L400.63,88.05 L400.92,87.68 L401.21,87.31 L401.50,86.94 L401.79,86.57 L402.08,86.20 L402.37,85.83 L402.66,85.46 L402.95,85.09 L403.25,84.72 L403.54,84.36 L403.83,83.99 L404.13,83.63 L404.42,83.26 L404.72,82.90 L405.01,82.53 L405.31,82.17 L405.61,81.81 L405.90,81.45 L406.20,81.09 L406.50,80.73 L406.80,80.37 L407.10,80.01 L407.41,79.66 L407.71,79.30 L408.01,78.95 L408.32,78.60 L408.63,78.25 L408.93,77.90 L409.24,77.55 L409.55,77.20 L409.86,76.85 L410.17,76.51 L410.49,76.16 L410.80,75.82 L411.12,75.48 L411.43,75.14 L411.75,74.80 L412.07,74.47 L412.39,74.13 L412.71,73.80 L413.04,73.47 L413.36,73.14 L413.69,72.81 L414.02,72.48 L414.35,72.16 L414.68,71.84 L415.01,71.51 L415.34,71.20 L415.68,70.88 L416.02,70.56 L416.36,70.25 L416.70,69.94 L417.04,69.63 L417.39,69.32 L417.73,69.02 L418.08,68.71 L418.43,68.41 L418.78,68.11 L419.14,67.82 L419.49,67.52 L419.85,67.23 L420.21,66.94 L420.57,66.66 L420.94,66.37 L421.31,66.09 L421.67,65.81 L422.04,65.53 L422.42,65.26 L422.79,64.98 L423.17,64.71 L423.54,64.44 L423.92,64.17 L424.30,63.91 L424.69,63.65 L425.07,63.39 L425.46,63.13 L425.85,62.87 L426.24,62.62 L426.63,62.37 L427.02,62.12 L427.41,61.87 L427.81,61.63 L428.21,61.38 L428.61,61.14 L429.01,60.90 L429.41,60.66 L429.81,60.43 L430.22,60.20 L430.63,59.96 L431.03,59.73 L431.44,59.51 L431.85,59.28 L432.27,59.06 L432.68,58.84 L433.09,58.62 L433.51,58.40 L433.93,58.18 L434.34,57.97 L434.76,57.76 L435.18,57.55 L435.61,57.34 L436.03,57.13 L436.45,56.93 L436.88,56.72 L437.30,56.52 L437.73,56.32 L438.16,56.12 L438.59,55.93 L439.02,55.73 L439.45,55.54 L439.88,55.35 L440.31,55.16 L440.75,54.97 L441.18,54.78 L441.62,54.60 L442.05,54.42 L442.49,54.23 L442.93,54.05 L443.36,53.88 L443.80,53.70 L444.24,53.52 L444.68,53.35 L445.12,53.18 L445.56,53.01 L446.01,52.84 L446.45,52.67 L446.89,52.50 L447.34,52.34 L447.78,52.18 L448.22,52.01 L448.67,51.85 L449.11,51.69 L449.56,51.54 L450.01,51.38 L450.45,51.22 L450.90,51.07 L451.35,50.92 L451.79,50.77 L452.24,50.62 L452.69,50.47 L453.14,50.32 L453.58,50.18 L454.03,50.03 L454.48,49.89 L454.93,49.75 L455.38,49.60 L455.83,49.46 L456.28,49.33 L456.73,49.19 L457.17,49.05 L457.62,48.92 L458.07,48.78 L458.52,48.65 L458.97,48.52 L459.42,48.39 L459.87,48.26 L460.31,48.13 L460.76,48.00 L461.21,47.87 L461.66,47.75 L462.10,47.62 L462.55,47.50 L463.00,47.38 L463.44,47.26 L463.89,47.13 L464.34,47.02 L464.78,46.90 L465.22,46.78 L465.67,46.66 L466.11,46.54 L466.56,46.43 L467.00,46.32 L467.44,46.20 L467.88,46.09 L468.32,45.98 L468.76,45.87 L469.20,45.76 L469.64,45.65 L470.08,45.54 L470.52,45.43 L470.96,45.32 L471.39,45.21 L471.83,45.11 L472.26,45.00 L472.70,44.90" fill="none" stroke="#0e5cd6" stroke-width="1.8" stroke-linejoin="round" stroke-linecap="round"/>
<path d="M73.40,347.60 L75.60,350.40 L172.00,350.40 L172.54,350.46 L173.06,350.48 L173.58,350.46 L174.08,350.42 L174.57,350.34 L175.05,350.23 L175.52,350.10 L175.97,349.94 L176.41,349.76 L176.84,349.55 L177.25,349.32 L177.66,349.08 L178.04,348.81 L178.42,348.53 L178.78,348.23 L179.12,347.92 L179.45,347.60 L179.77,347.27 L180.08,346.93 L180.37,346.58 L180.65,346.22 L180.91,345.85 L181.16,345.47 L181.41,345.08 L181.64,344.69 L181.86,344.28 L182.07,343.87 L182.27,343.45 L182.46,343.03 L182.64,342.60 L182.81,342.16 L182.98,341.72 L183.13,341.27 L183.28,340.81 L183.42,340.35 L183.56,339.89 L183.69,339.42 L183.81,338.95 L183.93,338.47 L184.05,338.00 L184.16,337.51 L184.26,337.03 L184.36,336.54 L184.46,336.06 L184.56,335.57 L184.65,335.08 L184.74,334.58 L184.83,334.09 L184.92,333.60 L185.01,333.11 L185.10,332.62 L185.19,332.12 L185.28,331.63 L185.37,331.14 L185.45,330.65 L185.54,330.16 L185.63,329.67 L185.72,329.18 L185.80,328.70 L185.89,328.21 L185.98,327.72 L186.06,327.23 L186.15,326.75 L186.23,326.26 L186.32,325.77 L186.41,325.29 L186.49,324.80 L186.58,324.32 L186.66,323.83 L186.75,323.35 L186.83,322.86 L186.92,322.38 L187.00,321.90 L187.09,321.41 L187.17,320.93 L187.26,320.45 L187.34,319.97 L187.42,319.49 L187.51,319.01 L187.59,318.52 L187.67,318.04 L187.76,317.56 L187.84,317.08 L187.92,316.60 L188.01,316.13 L188.09,315.65 L188.17,315.17 L188.25,314.69 L188.34,314.21 L188.42,313.73 L188.50,313.26 L188.58,312.78 L188.66,312.30 L188.75,311.83 L188.83,311.35 L188.91,310.87 L188.99,310.40 L189.07,309.92 L189.15,309.45 L189.23,308.97 L189.31,308.50 L189.39,308.02 L189.47,307.55 L189.56,307.07 L189.64,306.60 L189.72,306.13 L189.80,305.65 L189.88,305.18 L189.96,304.71 L190.04,304.23 L190.12,303.76 L190.20,303.29 L190.28,302.82 L190.35,302.34 L190.43,301.87 L190.51,301.40 L190.59,300.93 L190.67,300.46 L190.75,299.99 L190.83,299.52 L190.91,299.04 L190.99,298.57 L191.07,298.10 L191.14,297.63 L191.22,297.16 L191.30,296.69 L191.38,296.22 L191.46,295.75 L191.54,295.28 L191.61,294.81 L191.69,294.35 L191.77,293.88 L191.85,293.41 L191.93,292.94 L192.00,292.47 L192.08,292.00 L192.16,291.53 L192.24,291.06 L192.32,290.59 L192.39,290.13 L192.47,289.66 L192.55,289.19 L192.63,288.72 L192.70,288.25 L192.78,287.78 L192.86,287.32 L192.93,286.85 L193.01,286.38 L193.09,285.91 L193.17,285.44 L193.24,284.98 L193.32,284.51 L193.40,284.04 L193.47,283.57 L193.55,283.11 L193.63,282.64 L193.71,282.17 L193.78,281.70 L193.86,281.24 L193.94,280.77 L194.01,280.30 L194.09,279.83 L194.17,279.37 L194.24,278.90 L194.32,278.43 L194.40,277.96 L194.47,277.50 L194.55,277.03 L194.63,276.56 L194.70,276.09 L194.78,275.62 L194.86,275.16 L194.93,274.69 L195.01,274.22 L195.09,273.75 L195.16,273.29 L195.24,272.82 L195.32,272.35 L195.39,271.88 L195.47,271.41 L195.55,270.94 L195.62,270.48 L195.70,270.01 L195.78,269.54 L195.86,269.07 L195.93,268.60 L196.01,268.13 L196.09,267.66 L196.16,267.20 L196.24,266.73 L196.32,266.26 L196.39,265.79 L196.47,265.32 L196.55,264.85 L196.63,264.38 L196.70,263.91 L196.78,263.44 L196.86,262.97 L196.93,262.50 L197.01,262.03 L197.09,261.56 L197.17,261.09 L197.24,260.61 L197.32,260.14 L197.40,259.67 L197.48,259.20 L197.55,258.73 L197.63,258.26 L197.71,257.79 L197.79,257.31 L197.87,256.84 L197.94,256.37 L198.02,255.90 L198.10,255.42 L198.18,254.95 L198.26,254.48 L198.33,254.00 L198.41,253.53 L198.49,253.06 L198.57,252.58 L198.65,252.11 L198.72,251.63 L198.80,251.16 L198.88,250.69 L198.96,250.21 L199.04,249.74 L199.12,249.26 L199.19,248.79 L199.27,248.31 L199.35,247.84 L199.43,247.36 L199.51,246.89 L199.59,246.41 L199.67,245.94 L199.75,245.46 L199.82,244.98 L199.90,244.51 L199.98,244.03 L200.06,243.56 L200.14,243.08 L200.22,242.60 L200.30,242.13 L200.38,241.65 L200.45,241.17 L200.53,240.70 L200.61,240.22 L200.69,239.74 L200.77,239.26 L200.85,238.79 L200.93,238.31 L201.01,237.83 L201.09,237.35 L201.17,236.88 L201.25,236.40 L201.32,235.92 L201.40,235.44 L201.48,234.97 L201.56,234.49 L201.64,234.01 L201.72,233.53 L201.80,233.05 L201.88,232.57 L201.96,232.10 L202.04,231.62 L202.12,231.14 L202.20,230.66 L202.27,230.18 L202.35,229.70 L202.43,229.22 L202.51,228.74 L202.59,228.26 L202.67,227.78 L202.75,227.30 L202.83,226.83 L202.91,226.35 L202.99,225.87 L203.07,225.39 L203.15,224.91 L203.23,224.43 L203.31,223.95 L203.38,223.47 L203.46,222.99 L203.54,222.51 L203.62,222.03 L203.70,221.55 L203.78,221.07 L203.86,220.59 L203.94,220.11 L204.02,219.63 L204.10,219.15 L204.18,218.67 L204.26,218.19 L204.33,217.71 L204.41,217.23 L204.49,216.75 L204.57,216.27 L204.65,215.78 L204.73,215.30 L204.81,214.82 L204.89,214.34 L204.97,213.86 L205.05,213.38 L205.12,212.90 L205.20,212.42 L205.28,211.94 L205.36,211.46 L205.44,210.98 L205.52,210.50 L205.60,210.02 L205.68,209.54 L205.76,209.06 L205.83,208.58 L205.91,208.09 L205.99,207.61 L206.07,207.13 L206.15,206.65 L206.23,206.17 L206.31,205.69 L206.38,205.21 L206.46,204.73 L206.54,204.25 L206.62,203.77 L206.70,203.29 L206.78,202.81 L206.85,202.33 L206.93,201.85 L207.01,201.37 L207.09,200.88 L207.17,200.40 L207.25,199.92 L207.32,199.44 L207.40,198.96 L207.48,198.48 L207.56,198.00 L207.64,197.52 L207.71,197.04 L207.79,196.56 L207.87,196.08 L207.95,195.60 L208.02,195.12 L208.10,194.64 L208.18,194.16 L208.26,193.68 L208.33,193.20 L208.41,192.72 L208.49,192.24 L208.57,191.76 L208.64,191.28 L208.72,190.80 L208.80,190.32 L208.87,189.84 L208.95,189.36 L209.03,188.88 L209.11,188.40 L209.18,187.92 L209.26,187.44 L209.34,186.96 L209.41,186.48 L209.49,186.00 L209.57,185.52 L209.64,185.05 L209.72,184.57 L209.80,184.09 L209.87,183.61 L209.95,183.13 L210.02,182.65 L210.10,182.17 L210.18,181.69 L210.25,181.21 L210.33,180.74 L210.40,180.26 L210.48,179.78 L210.55,179.30 L210.63,178.82 L210.71,178.35 L210.78,177.87 L210.86,177.39 L210.93,176.91 L211.01,176.43 L211.08,175.96 L211.16,175.48 L211.23,175.00 L211.31,174.53 L211.38,174.05 L211.46,173.57 L211.53,173.09 L211.61,172.62 L211.68,172.14 L211.76,171.66 L211.83,171.19 L211.90,170.71 L211.98,170.24 L212.05,169.76 L212.13,169.28 L212.20,168.81 L212.27,168.33 L212.35,167.86 L212.42,167.38 L212.49,166.91 L212.57,166.43 L212.64,165.96 L212.72,165.48 L212.79,165.01 L212.86,164.53 L212.93,164.06 L213.01,163.58 L213.08,163.11 L213.15,162.63 L213.23,162.16 L213.30,161.69 L213.37,161.21 L213.44,160.74 L213.52,160.26 L213.59,159.79 L213.66,159.32 L213.73,158.84 L213.80,158.37 L213.88,157.90 L213.95,157.43 L214.02,156.95 L214.09,156.48 L214.16,156.01 L214.24,155.53 L214.31,155.06 L214.38,154.59 L214.45,154.12 L214.52,153.65 L214.59,153.17 L214.67,152.70 L214.74,152.23 L214.81,151.76 L214.88,151.29 L214.95,150.81 L215.02,150.34 L215.09,149.87 L215.17,149.40 L215.24,148.93 L215.31,148.46 L215.38,147.98 L215.45,147.51 L215.52,147.04 L215.59,146.57 L215.67,146.10 L215.74,145.63 L215.81,145.16 L215.88,144.69 L215.95,144.21 L216.02,143.74 L216.10,143.27 L216.17,142.80 L216.24,142.33 L216.31,141.86 L216.38,141.39 L216.45,140.92 L216.53,140.45 L216.60,139.98 L216.67,139.50 L216.74,139.03 L216.81,138.56 L216.89,138.09 L216.96,137.62 L217.03,137.15 L217.10,136.68 L217.17,136.21 L217.25,135.74 L217.32,135.27 L217.39,134.79 L217.46,134.32 L217.54,133.85 L217.61,133.38 L217.68,132.91 L217.76,132.44 L217.83,131.97 L217.90,131.50 L217.98,131.02 L218.05,130.55 L218.12,130.08 L218.20,129.61 L218.27,129.14 L218.34,128.67 L218.42,128.20 L218.49,127.72 L218.57,127.25 L218.64,126.78 L218.71,126.31 L218.79,125.84 L218.86,125.36 L218.94,124.89 L219.01,124.42 L219.09,123.95 L219.16,123.48 L219.24,123.00 L219.31,122.53 L219.39,122.06 L219.47,121.58 L219.54,121.11 L219.62,120.64 L219.69,120.17 L219.77,119.69 L219.85,119.22 L219.93,118.75 L220.00,118.27 L220.08,117.80 L220.16,117.32 L220.24,116.85 L220.33,116.37 L220.41,115.90 L220.50,115.42 L220.59,114.94 L220.68,114.46 L220.77,113.98 L220.87,113.50 L220.97,113.02 L221.07,112.54 L221.18,112.05 L221.29,111.56 L221.40,111.08 L221.52,110.59 L221.64,110.10 L221.77,109.60 L221.90,109.11 L222.04,108.61 L222.18,108.12 L222.32,107.62 L222.48,107.12 L222.63,106.61 L222.80,106.10 L222.97,105.60 L223.15,105.09 L223.33,104.57 L223.52,104.06 L223.72,103.54 L223.92,103.02 L224.13,102.51 L224.34,101.99 L224.57,101.48 L224.79,100.97 L225.03,100.47 L225.27,99.97 L225.51,99.48 L225.77,99.00 L226.02,98.52 L226.29,98.05 L226.55,97.60 L226.83,97.15 L227.11,96.72 L227.39,96.30 L227.68,95.90 L227.97,95.51 L228.27,95.13 L228.58,94.77 L228.89,94.44 L229.20,94.12 L229.52,93.81 L229.84,93.54 L230.17,93.28 L230.50,93.04 L230.83,92.83 L231.17,92.64 L231.51,92.48 L231.86,92.34 L232.21,92.23 L232.56,92.13 L232.92,92.06 L233.28,92.01 L233.64,91.98 L234.00,91.98 L234.37,91.99 L234.74,92.02 L235.11,92.07 L235.49,92.14 L235.86,92.23 L236.24,92.33 L236.62,92.46 L237.00,92.60 L237.38,92.75 L237.76,92.92 L238.15,93.11 L238.53,93.31 L238.92,93.52 L239.30,93.75 L239.69,93.99 L240.07,94.24 L240.46,94.51 L240.84,94.79 L241.22,95.08 L241.61,95.37 L241.99,95.68 L242.37,96.00 L242.75,96.33 L243.13,96.66 L243.51,97.01 L243.89,97.36 L244.26,97.72 L244.63,98.08 L245.00,98.45 L245.37,98.83 L245.74,99.21 L246.10,99.60 L246.46,99.99 L246.82,100.38 L247.17,100.78 L247.52,101.17 L247.87,101.57 L248.21,101.98 L248.55,102.38 L248.88,102.78 L249.21,103.18 L249.54,103.59 L249.87,103.99 L250.19,104.39 L250.50,104.80 L250.81,105.20 L251.12,105.60 L251.43,106.01 L251.73,106.41 L252.03,106.81 L252.33,107.22 L252.62,107.62 L252.91,108.02 L253.20,108.42 L253.48,108.83 L253.76,109.23 L254.04,109.63 L254.32,110.04 L254.59,110.44 L254.87,110.84 L255.14,111.24 L255.41,111.65 L255.67,112.05 L255.94,112.45 L256.20,112.85 L256.47,113.25 L256.73,113.65 L256.99,114.05 L257.24,114.46 L257.50,114.86 L257.76,115.26 L258.01,115.66 L258.27,116.06 L258.52,116.46 L258.77,116.86 L259.02,117.26 L259.28,117.66 L259.53,118.05 L259.78,118.45 L260.03,118.85 L260.28,119.25 L260.53,119.65 L260.78,120.04 L261.04,120.44 L261.29,120.84 L261.54,121.23 L261.79,121.63 L262.05,122.03 L262.30,122.42 L262.56,122.82 L262.82,123.21 L263.07,123.61 L263.33,124.00 L263.59,124.39 L263.85,124.79 L264.12,125.18 L264.38,125.57 L264.65,125.96 L264.92,126.35 L265.19,126.74 L265.46,127.13 L265.73,127.52 L266.01,127.91 L266.29,128.30 L266.57,128.69 L266.85,129.08 L267.14,129.47 L267.43,129.85 L267.72,130.24 L268.01,130.62 L268.31,131.01 L268.60,131.39 L268.90,131.78 L269.20,132.16 L269.51,132.54 L269.81,132.92 L270.12,133.30 L270.43,133.68 L270.75,134.06 L271.06,134.43 L271.38,134.81 L271.70,135.18 L272.02,135.56 L272.34,135.93 L272.66,136.30 L272.99,136.67 L273.32,137.04 L273.65,137.40 L273.98,137.77 L274.31,138.13 L274.65,138.50 L274.99,138.86 L275.33,139.22 L275.67,139.58 L276.01,139.93 L276.35,140.29 L276.70,140.64 L277.05,140.99 L277.40,141.34 L277.75,141.69 L278.10,142.04 L278.45,142.38 L278.81,142.73 L279.16,143.07 L279.52,143.41 L279.88,143.74 L280.24,144.08 L280.61,144.41 L280.97,144.74 L281.34,145.07 L281.70,145.40 L282.07,145.72 L282.44,146.05 L282.81,146.37 L283.18,146.68 L283.55,147.00 L283.93,147.31 L284.30,147.62 L284.68,147.93 L285.06,148.23 L285.44,148.53 L285.82,148.83 L286.20,149.12 L286.59,149.41 L286.97,149.70 L287.36,149.98 L287.75,150.27 L288.14,150.54 L288.53,150.81 L288.92,151.08 L289.31,151.35 L289.71,151.61 L290.10,151.86 L290.50,152.12 L290.90,152.36 L291.30,152.61 L291.70,152.84 L292.11,153.08 L292.51,153.31 L292.92,153.53 L293.32,153.75 L293.73,153.96 L294.14,154.17 L294.56,154.37 L294.97,154.57 L295.39,154.76 L295.80,154.95 L296.22,155.13 L296.64,155.30 L297.06,155.47 L297.48,155.64 L297.91,155.79 L298.33,155.94 L298.76,156.09 L299.19,156.22 L299.62,156.36 L300.05,156.48 L300.48,156.60 L300.92,156.71 L301.36,156.81 L301.79,156.91 L302.23,157.00 L302.67,157.08 L303.12,157.16 L303.56,157.23 L304.01,157.29 L304.45,157.34 L304.90,157.39 L305.35,157.42 L305.81,157.45 L306.26,157.48 L306.71,157.50 L307.17,157.51 L307.63,157.51 L308.08,157.51 L308.54,157.50 L309.00,157.48 L309.47,157.46 L309.93,157.43 L310.39,157.40 L310.86,157.36 L311.32,157.31 L311.79,157.26 L312.26,157.20 L312.73,157.14 L313.20,157.07 L313.66,156.99 L314.14,156.92 L314.61,156.83 L315.08,156.74 L315.55,156.65 L316.02,156.55 L316.50,156.44 L316.97,156.33 L317.45,156.22 L317.92,156.10 L318.39,155.98 L318.87,155.86 L319.35,155.73 L319.82,155.59 L320.30,155.45 L320.77,155.31 L321.25,155.17 L321.72,155.02 L322.20,154.86 L322.68,154.71 L323.15,154.55 L323.63,154.39 L324.10,154.22 L324.58,154.05 L325.05,153.88 L325.53,153.71 L326.00,153.53 L326.48,153.35 L326.95,153.17 L327.42,152.99 L327.90,152.80 L328.37,152.62 L328.84,152.43 L329.31,152.23 L329.78,152.04 L330.25,151.85 L330.72,151.65 L331.19,151.45 L331.66,151.25 L332.12,151.05 L332.59,150.85 L333.05,150.65 L333.51,150.44 L333.98,150.24 L334.44,150.03 L334.90,149.83 L335.36,149.62 L335.82,149.41 L336.27,149.20 L336.73,149.00 L337.18,148.79 L337.64,148.57 L338.09,148.36 L338.54,148.15 L338.99,147.94 L339.44,147.72 L339.89,147.51 L340.34,147.29 L340.78,147.08 L341.23,146.86 L341.67,146.64 L342.11,146.42 L342.55,146.20 L342.99,145.98 L343.43,145.76 L343.87,145.53 L344.30,145.31 L344.74,145.08 L345.17,144.86 L345.61,144.63 L346.04,144.40 L346.47,144.17 L346.90,143.94 L347.32,143.71 L347.75,143.48 L348.17,143.24 L348.60,143.01 L349.02,142.77 L349.44,142.53 L349.86,142.30 L350.28,142.06 L350.70,141.82 L351.11,141.57 L351.53,141.33 L351.94,141.09 L352.35,140.84 L352.77,140.60 L353.17,140.35 L353.58,140.10 L353.99,139.85 L354.39,139.60 L354.80,139.34 L355.20,139.09 L355.60,138.83 L356.00,138.58 L356.40,138.32 L356.80,138.06 L357.19,137.80 L357.59,137.54 L357.98,137.27 L358.37,137.01 L358.76,136.74 L359.15,136.48 L359.54,136.21 L359.92,135.94 L360.31,135.67 L360.69,135.39 L361.07,135.12 L361.45,134.84 L361.83,134.56 L362.21,134.28 L362.58,134.00 L362.96,133.72 L363.33,133.44 L363.70,133.15 L364.07,132.87 L364.44,132.58 L364.80,132.29 L365.17,132.00 L365.53,131.70 L365.89,131.41 L366.25,131.11 L366.61,130.81 L366.97,130.52 L367.33,130.21 L367.68,129.91 L368.03,129.61 L368.38,129.30 L368.73,128.99 L369.08,128.68 L369.43,128.37 L369.77,128.06 L370.11,127.74 L370.45,127.43 L370.79,127.11 L371.13,126.79 L371.47,126.47 L371.80,126.14 L372.14,125.82 L372.47,125.49 L372.80,125.16 L373.13,124.83 L373.45,124.50 L373.78,124.16 L374.10,123.83 L374.42,123.49 L374.74,123.15 L375.06,122.80 L375.37,122.46 L375.69,122.11 L376.00,121.77 L376.31,121.42 L376.62,121.06 L376.93,120.71 L377.23,120.35 L377.54,120.00 L377.84,119.64 L378.14,119.27 L378.44,118.91 L378.74,118.54 L379.03,118.18 L379.33,117.81 L379.62,117.44 L379.91,117.06 L380.20,116.69 L380.49,116.31 L380.78,115.94 L381.06,115.56 L381.35,115.18 L381.63,114.80 L381.91,114.41 L382.19,114.03 L382.47,113.64 L382.75,113.25 L383.03,112.86 L383.30,112.47 L383.58,112.08 L383.85,111.69 L384.12,111.29 L384.40,110.90 L384.67,110.50 L384.94,110.10 L385.20,109.70 L385.47,109.30 L385.74,108.90 L386.00,108.50 L386.27,108.10 L386.53,107.69 L386.80,107.29 L387.06,106.88 L387.32,106.47 L387.58,106.06 L387.84,105.65 L388.10,105.24 L388.36,104.83 L388.62,104.42 L388.88,104.01 L389.14,103.60 L389.39,103.18 L389.65,102.77 L389.91,102.36 L390.16,101.94 L390.42,101.52 L390.67,101.11 L390.93,100.69 L391.18,100.27 L391.43,99.86 L391.69,99.44 L391.94,99.02 L392.19,98.60 L392.45,98.18 L392.70,97.76 L392.95,97.34 L393.21,96.92 L393.46,96.50 L393.71,96.08 L393.96,95.66 L394.22,95.24 L394.47,94.82 L394.72,94.40 L394.97,93.98 L395.23,93.56 L395.48,93.14 L395.73,92.72 L395.99,92.30 L396.24,91.88 L396.50,91.46 L396.75,91.04 L397.00,90.62 L397.26,90.20 L397.51,89.78 L397.77,89.36 L398.03,88.94 L398.28,88.52 L398.54,88.11 L398.80,87.69 L399.06,87.27 L399.32,86.86 L399.57,86.44 L399.83,86.03 L400.10,85.61 L400.36,85.20 L400.62,84.78 L400.88,84.37 L401.15,83.96 L401.41,83.55 L401.68,83.14 L401.94,82.73 L402.21,82.32 L402.48,81.91 L402.75,81.51 L403.02,81.10 L403.29,80.69 L403.56,80.29 L403.83,79.89 L404.10,79.48 L404.38,79.08 L404.66,78.68 L404.93,78.28 L405.21,77.89 L405.49,77.49 L405.77,77.10 L406.06,76.70 L406.34,76.31 L406.62,75.92 L406.91,75.53 L407.20,75.14 L407.49,74.75 L407.78,74.36 L408.07,73.98 L408.36,73.60 L408.66,73.22 L408.95,72.84 L409.25,72.46 L409.55,72.08 L409.85,71.70 L410.16,71.33 L410.46,70.96 L410.77,70.59 L411.08,70.22 L411.39,69.85 L411.70,69.49 L412.01,69.13 L412.33,68.76 L412.64,68.41 L412.96,68.05 L413.28,67.69 L413.61,67.34 L413.93,66.99 L414.26,66.64 L414.59,66.29 L414.92,65.95 L415.25,65.60 L415.59,65.26 L415.93,64.92 L416.27,64.59 L416.61,64.25 L416.95,63.92 L417.30,63.59 L417.65,63.26 L418.00,62.94 L418.35,62.62 L418.71,62.30 L419.07,61.98 L419.43,61.66 L419.79,61.35 L420.16,61.04 L420.53,60.73 L420.90,60.43 L421.27,60.13 L421.65,59.83 L422.02,59.53 L422.40,59.23 L422.79,58.94 L423.17,58.65 L423.56,58.36 L423.95,58.08 L424.34,57.80 L424.73,57.51 L425.12,57.24 L425.52,56.96 L425.92,56.69 L426.32,56.42 L426.73,56.15 L427.13,55.88 L427.54,55.62 L427.95,55.36 L428.36,55.10 L428.77,54.84 L429.19,54.59 L429.60,54.34 L430.02,54.09 L430.44,53.84 L430.86,53.60 L431.28,53.36 L431.71,53.12 L432.13,52.88 L432.56,52.64 L432.99,52.41 L433.42,52.18 L433.85,51.95 L434.29,51.72 L434.72,51.50 L435.16,51.28 L435.60,51.06 L436.03,50.84 L436.47,50.62 L436.92,50.41 L437.36,50.20 L437.80,49.99 L438.25,49.79 L438.69,49.58 L439.14,49.38 L439.59,49.18 L440.04,48.98 L440.49,48.78 L440.94,48.59 L441.39,48.40 L441.84,48.21 L442.30,48.02 L442.75,47.84 L443.21,47.65 L443.66,47.47 L444.12,47.29 L444.58,47.12 L445.04,46.94 L445.50,46.77 L445.96,46.60 L446.42,46.43 L446.88,46.26 L447.34,46.10 L447.80,45.94 L448.27,45.78 L448.73,45.62 L449.19,45.46 L449.66,45.30 L450.12,45.15 L450.59,45.00 L451.05,44.85 L451.52,44.70 L451.98,44.56 L452.45,44.42 L452.91,44.28 L453.38,44.14 L453.84,44.00 L454.31,43.86 L454.78,43.73 L455.24,43.60 L455.71,43.47 L456.18,43.34 L456.64,43.21 L457.11,43.09 L457.58,42.97 L458.04,42.85 L458.51,42.73 L458.97,42.61 L459.44,42.49 L459.90,42.38 L460.37,42.27 L460.83,42.16 L461.30,42.05 L461.76,41.94 L462.22,41.84 L462.69,41.74 L463.15,41.64 L463.61,41.54 L464.07,41.44 L464.53,41.34 L464.99,41.25 L465.45,41.15 L465.91,41.06 L466.37,40.97 L466.83,40.89 L467.28,40.80 L467.74,40.72 L468.20,40.63 L468.65,40.55 L469.10,40.47 L469.56,40.40 L470.01,40.32 L470.46,40.24 L470.91,40.17 L471.36,40.10 L471.80,40.03 L472.25,39.96 L472.70,39.89" fill="none" stroke="#2ba55f" stroke-width="1.8" stroke-linejoin="round" stroke-linecap="round"/>
<path d="M71.60,345.60 L72.60,343.80 L74.00,341.70 L74.80,344.50 L75.80,350.60 L77.00,350.90 L174.00,350.90 L174.52,351.00 L175.04,351.07 L175.54,351.09 L176.04,351.09 L176.52,351.05 L177.00,350.98 L177.46,350.87 L177.92,350.75 L178.36,350.59 L178.79,350.41 L179.21,350.20 L179.62,349.98 L180.01,349.73 L180.40,349.47 L180.77,349.18 L181.13,348.89 L181.47,348.57 L181.80,348.25 L182.12,347.91 L182.43,347.57 L182.72,347.22 L183.00,346.86 L183.27,346.49 L183.52,346.11 L183.77,345.73 L184.00,345.34 L184.22,344.94 L184.43,344.54 L184.63,344.13 L184.82,343.71 L185.00,343.29 L185.17,342.86 L185.33,342.43 L185.49,341.99 L185.63,341.55 L185.77,341.10 L185.91,340.65 L186.03,340.20 L186.15,339.74 L186.27,339.28 L186.38,338.82 L186.48,338.35 L186.58,337.88 L186.68,337.41 L186.77,336.94 L186.86,336.46 L186.94,335.99 L187.03,335.51 L187.11,335.03 L187.19,334.55 L187.27,334.07 L187.35,333.59 L187.42,333.11 L187.50,332.63 L187.58,332.15 L187.66,331.67 L187.73,331.20 L187.81,330.72 L187.89,330.24 L187.97,329.76 L188.05,329.29 L188.12,328.81 L188.20,328.33 L188.28,327.86 L188.36,327.38 L188.44,326.91 L188.51,326.43 L188.59,325.96 L188.67,325.48 L188.75,325.01 L188.83,324.54 L188.90,324.06 L188.98,323.59 L189.06,323.12 L189.14,322.65 L189.22,322.18 L189.30,321.70 L189.37,321.23 L189.45,320.76 L189.53,320.29 L189.61,319.82 L189.69,319.35 L189.77,318.88 L189.84,318.41 L189.92,317.94 L190.00,317.47 L190.08,317.01 L190.16,316.54 L190.24,316.07 L190.32,315.60 L190.39,315.13 L190.47,314.67 L190.55,314.20 L190.63,313.73 L190.71,313.27 L190.79,312.80 L190.87,312.33 L190.94,311.87 L191.02,311.40 L191.10,310.94 L191.18,310.47 L191.26,310.01 L191.34,309.54 L191.42,309.08 L191.49,308.61 L191.57,308.15 L191.65,307.68 L191.73,307.22 L191.81,306.76 L191.89,306.29 L191.97,305.83 L192.04,305.37 L192.12,304.90 L192.20,304.44 L192.28,303.98 L192.36,303.52 L192.44,303.05 L192.52,302.59 L192.59,302.13 L192.67,301.67 L192.75,301.21 L192.83,300.74 L192.91,300.28 L192.99,299.82 L193.06,299.36 L193.14,298.90 L193.22,298.44 L193.30,297.98 L193.38,297.52 L193.46,297.06 L193.54,296.60 L193.61,296.14 L193.69,295.67 L193.77,295.21 L193.85,294.75 L193.93,294.29 L194.00,293.83 L194.08,293.37 L194.16,292.91 L194.24,292.45 L194.32,291.99 L194.40,291.53 L194.47,291.08 L194.55,290.62 L194.63,290.16 L194.71,289.70 L194.78,289.24 L194.86,288.78 L194.94,288.32 L195.02,287.86 L195.10,287.40 L195.17,286.94 L195.25,286.48 L195.33,286.02 L195.41,285.56 L195.48,285.10 L195.56,284.64 L195.64,284.18 L195.72,283.73 L195.79,283.27 L195.87,282.81 L195.95,282.35 L196.03,281.89 L196.10,281.43 L196.18,280.97 L196.26,280.51 L196.33,280.05 L196.41,279.59 L196.49,279.13 L196.57,278.67 L196.64,278.21 L196.72,277.75 L196.80,277.29 L196.87,276.83 L196.95,276.37 L197.03,275.91 L197.10,275.45 L197.18,274.99 L197.26,274.53 L197.33,274.07 L197.41,273.61 L197.48,273.15 L197.56,272.69 L197.64,272.23 L197.71,271.77 L197.79,271.31 L197.87,270.85 L197.94,270.39 L198.02,269.93 L198.09,269.47 L198.17,269.00 L198.24,268.54 L198.32,268.08 L198.40,267.62 L198.47,267.16 L198.55,266.69 L198.62,266.23 L198.70,265.77 L198.77,265.31 L198.85,264.84 L198.92,264.38 L199.00,263.92 L199.07,263.46 L199.15,262.99 L199.22,262.53 L199.30,262.06 L199.37,261.60 L199.44,261.14 L199.52,260.67 L199.59,260.21 L199.67,259.74 L199.74,259.28 L199.82,258.81 L199.89,258.35 L199.96,257.88 L200.04,257.42 L200.11,256.95 L200.18,256.48 L200.26,256.02 L200.33,255.55 L200.41,255.08 L200.48,254.62 L200.55,254.15 L200.63,253.68 L200.70,253.22 L200.77,252.75 L200.84,252.28 L200.92,251.81 L200.99,251.35 L201.06,250.88 L201.14,250.41 L201.21,249.94 L201.28,249.47 L201.36,249.00 L201.43,248.54 L201.50,248.07 L201.57,247.60 L201.65,247.13 L201.72,246.66 L201.79,246.19 L201.86,245.72 L201.94,245.25 L202.01,244.78 L202.08,244.31 L202.15,243.84 L202.23,243.37 L202.30,242.90 L202.37,242.43 L202.44,241.96 L202.52,241.49 L202.59,241.02 L202.66,240.55 L202.73,240.08 L202.81,239.61 L202.88,239.14 L202.95,238.66 L203.02,238.19 L203.09,237.72 L203.17,237.25 L203.24,236.78 L203.31,236.31 L203.38,235.84 L203.46,235.36 L203.53,234.89 L203.60,234.42 L203.67,233.95 L203.75,233.48 L203.82,233.01 L203.89,232.53 L203.96,232.06 L204.04,231.59 L204.11,231.12 L204.18,230.65 L204.25,230.17 L204.33,229.70 L204.40,229.23 L204.47,228.76 L204.54,228.28 L204.62,227.81 L204.69,227.34 L204.76,226.87 L204.83,226.40 L204.91,225.92 L204.98,225.45 L205.05,224.98 L205.13,224.51 L205.20,224.03 L205.27,223.56 L205.35,223.09 L205.42,222.62 L205.49,222.14 L205.56,221.67 L205.64,221.20 L205.71,220.73 L205.79,220.26 L205.86,219.78 L205.93,219.31 L206.01,218.84 L206.08,218.37 L206.15,217.89 L206.23,217.42 L206.30,216.95 L206.38,216.48 L206.45,216.01 L206.52,215.53 L206.60,215.06 L206.67,214.59 L206.75,214.12 L206.82,213.65 L206.90,213.17 L206.97,212.70 L207.05,212.23 L207.12,211.76 L207.20,211.29 L207.27,210.82 L207.35,210.35 L207.42,209.87 L207.50,209.40 L207.57,208.93 L207.65,208.46 L207.72,207.99 L207.80,207.52 L207.87,207.05 L207.95,206.58 L208.03,206.11 L208.10,205.64 L208.18,205.17 L208.26,204.70 L208.33,204.23 L208.41,203.76 L208.49,203.29 L208.56,202.82 L208.64,202.35 L208.72,201.88 L208.80,201.41 L208.87,200.94 L208.95,200.47 L209.03,200.00 L209.11,199.53 L209.18,199.06 L209.26,198.59 L209.34,198.13 L209.42,197.66 L209.50,197.19 L209.58,196.72 L209.66,196.25 L209.73,195.79 L209.81,195.32 L209.89,194.85 L209.97,194.38 L210.05,193.92 L210.13,193.45 L210.21,192.98 L210.29,192.52 L210.37,192.05 L210.45,191.58 L210.53,191.12 L210.62,190.65 L210.70,190.19 L210.78,189.72 L210.86,189.25 L210.94,188.79 L211.02,188.32 L211.10,187.86 L211.19,187.40 L211.27,186.93 L211.35,186.47 L211.43,186.00 L211.52,185.54 L211.60,185.08 L211.68,184.61 L211.77,184.15 L211.85,183.69 L211.93,183.22 L212.02,182.76 L212.10,182.30 L212.19,181.84 L212.27,181.38 L212.36,180.91 L212.44,180.45 L212.53,179.99 L212.61,179.53 L212.70,179.07 L212.78,178.61 L212.87,178.15 L212.96,177.69 L213.04,177.23 L213.13,176.77 L213.22,176.31 L213.30,175.85 L213.39,175.39 L213.48,174.94 L213.57,174.48 L213.65,174.02 L213.74,173.56 L213.83,173.11 L213.92,172.65 L214.01,172.19 L214.10,171.74 L214.19,171.28 L214.28,170.83 L214.37,170.37 L214.46,169.92 L214.55,169.46 L214.64,169.01 L214.73,168.55 L214.82,168.10 L214.91,167.64 L215.01,167.19 L215.10,166.74 L215.19,166.29 L215.28,165.83 L215.38,165.38 L215.47,164.93 L215.56,164.48 L215.66,164.03 L215.75,163.58 L215.84,163.13 L215.94,162.68 L216.03,162.23 L216.13,161.78 L216.22,161.33 L216.32,160.88 L216.41,160.43 L216.51,159.98 L216.60,159.53 L216.70,159.08 L216.79,158.63 L216.89,158.18 L216.98,157.73 L217.07,157.28 L217.17,156.83 L217.26,156.38 L217.36,155.93 L217.45,155.48 L217.55,155.03 L217.64,154.58 L217.73,154.13 L217.83,153.67 L217.92,153.22 L218.01,152.77 L218.10,152.32 L218.20,151.86 L218.29,151.41 L218.38,150.95 L218.47,150.50 L218.56,150.04 L218.65,149.59 L218.74,149.13 L218.83,148.67 L218.92,148.21 L219.00,147.75 L219.09,147.29 L219.18,146.83 L219.26,146.37 L219.35,145.91 L219.43,145.45 L219.52,144.98 L219.60,144.52 L219.68,144.05 L219.76,143.58 L219.85,143.11 L219.93,142.65 L220.00,142.17 L220.08,141.70 L220.16,141.23 L220.24,140.76 L220.31,140.28 L220.39,139.81 L220.46,139.33 L220.53,138.85 L220.61,138.37 L220.68,137.89 L220.75,137.41 L220.82,136.92 L220.88,136.44 L220.95,135.95 L221.01,135.46 L221.08,134.97 L221.14,134.48 L221.20,133.99 L221.26,133.49 L221.32,132.99 L221.38,132.50 L221.44,132.00 L221.49,131.50 L221.55,130.99 L221.60,130.49 L221.65,129.98 L221.70,129.47 L221.75,128.96 L221.80,128.45 L221.85,127.94 L221.90,127.42 L221.95,126.91 L222.00,126.40 L222.05,125.88 L222.11,125.37 L222.16,124.86 L222.23,124.35 L222.29,123.83 L222.36,123.33 L222.44,122.82 L222.51,122.31 L222.60,121.81 L222.69,121.31 L222.79,120.81 L222.89,120.32 L223.01,119.83 L223.13,119.34 L223.25,118.85 L223.39,118.38 L223.54,117.90 L223.69,117.43 L223.86,116.97 L224.04,116.51 L224.23,116.05 L224.42,115.60 L224.63,115.16 L224.85,114.73 L225.08,114.30 L225.31,113.88 L225.56,113.47 L225.81,113.06 L226.07,112.67 L226.34,112.28 L226.62,111.90 L226.90,111.54 L227.19,111.18 L227.49,110.83 L227.80,110.49 L228.11,110.17 L228.43,109.85 L228.76,109.55 L229.09,109.26 L229.42,108.98 L229.77,108.72 L230.11,108.46 L230.47,108.22 L230.82,108.00 L231.19,107.79 L231.55,107.59 L231.92,107.41 L232.30,107.24 L232.67,107.09 L233.05,106.96 L233.44,106.84 L233.82,106.74 L234.21,106.65 L234.60,106.59 L235.00,106.54 L235.39,106.51 L235.79,106.49 L236.18,106.50 L236.58,106.52 L236.98,106.57 L237.38,106.63 L237.78,106.72 L238.18,106.82 L238.58,106.95 L238.98,107.09 L239.38,107.26 L239.78,107.45 L240.18,107.66 L240.57,107.88 L240.97,108.12 L241.37,108.38 L241.76,108.65 L242.15,108.94 L242.54,109.23 L242.93,109.54 L243.32,109.86 L243.70,110.19 L244.09,110.53 L244.47,110.88 L244.85,111.23 L245.23,111.58 L245.60,111.95 L245.98,112.31 L246.35,112.68 L246.71,113.04 L247.08,113.41 L247.44,113.78 L247.80,114.14 L248.16,114.50 L248.51,114.86 L248.86,115.21 L249.21,115.56 L249.55,115.90 L249.89,116.24 L250.23,116.57 L250.57,116.90 L250.90,117.23 L251.23,117.56 L251.56,117.88 L251.89,118.21 L252.22,118.54 L252.54,118.87 L252.86,119.20 L253.19,119.53 L253.51,119.87 L253.83,120.21 L254.15,120.55 L254.47,120.90 L254.78,121.25 L255.10,121.60 L255.42,121.95 L255.73,122.31 L256.05,122.67 L256.36,123.03 L256.68,123.39 L256.99,123.76 L257.30,124.12 L257.61,124.49 L257.92,124.86 L258.23,125.24 L258.54,125.61 L258.85,125.99 L259.16,126.37 L259.47,126.75 L259.78,127.13 L260.09,127.51 L260.40,127.90 L260.71,128.28 L261.01,128.67 L261.32,129.05 L261.63,129.44 L261.94,129.83 L262.24,130.22 L262.55,130.61 L262.86,131.00 L263.17,131.40 L263.47,131.79 L263.78,132.18 L264.09,132.57 L264.40,132.97 L264.70,133.36 L265.01,133.75 L265.32,134.15 L265.63,134.54 L265.94,134.93 L266.25,135.33 L266.56,135.72 L266.87,136.11 L267.18,136.50 L267.49,136.89 L267.80,137.28 L268.11,137.67 L268.42,138.06 L268.73,138.45 L269.05,138.83 L269.36,139.22 L269.68,139.60 L269.99,139.99 L270.31,140.37 L270.62,140.75 L270.94,141.13 L271.26,141.51 L271.58,141.88 L271.90,142.25 L272.22,142.63 L272.54,143.00 L272.87,143.36 L273.19,143.73 L273.52,144.09 L273.84,144.46 L274.17,144.81 L274.50,145.17 L274.83,145.53 L275.16,145.88 L275.49,146.23 L275.82,146.57 L276.16,146.92 L276.49,147.26 L276.83,147.59 L277.17,147.93 L277.51,148.26 L277.85,148.59 L278.19,148.91 L278.54,149.23 L278.88,149.55 L279.23,149.87 L279.58,150.18 L279.93,150.48 L280.28,150.79 L280.64,151.09 L280.99,151.38 L281.35,151.67 L281.71,151.96 L282.07,152.24 L282.43,152.52 L282.80,152.79 L283.17,153.06 L283.54,153.33 L283.91,153.59 L284.28,153.85 L284.65,154.10 L285.03,154.34 L285.41,154.58 L285.79,154.82 L286.17,155.05 L286.56,155.28 L286.95,155.50 L287.34,155.71 L287.73,155.92 L288.12,156.13 L288.52,156.33 L288.92,156.52 L289.32,156.71 L289.72,156.89 L290.13,157.07 L290.53,157.25 L290.94,157.41 L291.35,157.58 L291.76,157.74 L292.18,157.89 L292.59,158.04 L293.01,158.18 L293.43,158.32 L293.85,158.46 L294.28,158.59 L294.70,158.71 L295.13,158.83 L295.56,158.95 L295.99,159.06 L296.42,159.16 L296.85,159.26 L297.28,159.36 L297.72,159.45 L298.16,159.54 L298.60,159.63 L299.04,159.70 L299.48,159.78 L299.92,159.85 L300.36,159.92 L300.81,159.98 L301.25,160.04 L301.70,160.09 L302.15,160.14 L302.60,160.18 L303.05,160.22 L303.50,160.26 L303.96,160.29 L304.41,160.32 L304.87,160.35 L305.32,160.37 L305.78,160.39 L306.24,160.40 L306.69,160.41 L307.15,160.41 L307.61,160.42 L308.07,160.41 L308.54,160.41 L309.00,160.40 L309.46,160.39 L309.93,160.37 L310.39,160.35 L310.85,160.33 L311.32,160.30 L311.79,160.27 L312.25,160.23 L312.72,160.20 L313.19,160.16 L313.65,160.11 L314.12,160.06 L314.59,160.01 L315.06,159.96 L315.53,159.90 L316.00,159.84 L316.46,159.78 L316.93,159.71 L317.40,159.64 L317.87,159.57 L318.34,159.49 L318.81,159.42 L319.28,159.33 L319.75,159.25 L320.22,159.16 L320.69,159.07 L321.16,158.98 L321.63,158.88 L322.10,158.78 L322.57,158.68 L323.04,158.58 L323.50,158.47 L323.97,158.36 L324.44,158.25 L324.91,158.14 L325.37,158.02 L325.84,157.90 L326.31,157.78 L326.77,157.66 L327.24,157.53 L327.70,157.40 L328.17,157.27 L328.63,157.14 L329.09,157.00 L329.56,156.86 L330.02,156.72 L330.48,156.58 L330.94,156.44 L331.40,156.29 L331.85,156.14 L332.31,155.99 L332.77,155.84 L333.22,155.68 L333.68,155.53 L334.13,155.37 L334.59,155.21 L335.04,155.05 L335.49,154.88 L335.94,154.72 L336.39,154.55 L336.83,154.38 L337.28,154.21 L337.73,154.04 L338.17,153.86 L338.62,153.69 L339.06,153.51 L339.50,153.33 L339.94,153.15 L340.38,152.96 L340.82,152.78 L341.26,152.59 L341.69,152.40 L342.13,152.21 L342.56,152.02 L343.00,151.82 L343.43,151.63 L343.86,151.43 L344.29,151.23 L344.72,151.03 L345.15,150.83 L345.57,150.62 L346.00,150.41 L346.42,150.21 L346.85,150.00 L347.27,149.78 L347.69,149.57 L348.11,149.35 L348.53,149.14 L348.95,148.92 L349.37,148.70 L349.78,148.48 L350.20,148.25 L350.61,148.03 L351.03,147.80 L351.44,147.57 L351.85,147.34 L352.26,147.11 L352.67,146.87 L353.07,146.64 L353.48,146.40 L353.88,146.16 L354.29,145.92 L354.69,145.68 L355.09,145.43 L355.49,145.19 L355.89,144.94 L356.29,144.69 L356.68,144.44 L357.08,144.19 L357.47,143.93 L357.87,143.68 L358.26,143.42 L358.65,143.16 L359.04,142.90 L359.43,142.64 L359.82,142.38 L360.20,142.11 L360.59,141.84 L360.97,141.58 L361.35,141.31 L361.74,141.04 L362.12,140.76 L362.49,140.49 L362.87,140.21 L363.25,139.93 L363.62,139.65 L364.00,139.37 L364.37,139.09 L364.74,138.81 L365.11,138.52 L365.48,138.23 L365.85,137.95 L366.22,137.66 L366.58,137.36 L366.95,137.07 L367.31,136.78 L367.67,136.48 L368.03,136.18 L368.39,135.88 L368.75,135.58 L369.10,135.28 L369.46,134.98 L369.81,134.67 L370.17,134.36 L370.52,134.06 L370.87,133.75 L371.22,133.43 L371.56,133.12 L371.91,132.81 L372.25,132.49 L372.60,132.18 L372.94,131.86 L373.28,131.54 L373.62,131.22 L373.96,130.89 L374.30,130.57 L374.63,130.24 L374.97,129.92 L375.30,129.59 L375.63,129.26 L375.96,128.93 L376.29,128.59 L376.62,128.26 L376.94,127.92 L377.27,127.59 L377.59,127.25 L377.92,126.91 L378.24,126.57 L378.56,126.23 L378.87,125.88 L379.19,125.54 L379.51,125.19 L379.82,124.85 L380.14,124.50 L380.45,124.15 L380.76,123.80 L381.07,123.45 L381.38,123.09 L381.69,122.74 L382.00,122.38 L382.31,122.03 L382.61,121.67 L382.92,121.31 L383.22,120.96 L383.52,120.60 L383.83,120.24 L384.13,119.87 L384.43,119.51 L384.73,119.15 L385.03,118.78 L385.32,118.42 L385.62,118.06 L385.92,117.69 L386.21,117.32 L386.51,116.96 L386.81,116.59 L387.10,116.22 L387.39,115.85 L387.69,115.48 L387.98,115.11 L388.27,114.74 L388.56,114.37 L388.85,114.00 L389.15,113.62 L389.44,113.25 L389.73,112.88 L390.02,112.50 L390.31,112.13 L390.59,111.76 L390.88,111.38 L391.17,111.01 L391.46,110.63 L391.75,110.26 L392.04,109.88 L392.32,109.51 L392.61,109.13 L392.90,108.75 L393.19,108.38 L393.47,108.00 L393.76,107.63 L394.05,107.25 L394.33,106.87 L394.62,106.50 L394.91,106.12 L395.20,105.75 L395.48,105.37 L395.77,104.99 L396.06,104.62 L396.35,104.24 L396.63,103.87 L396.92,103.49 L397.21,103.12 L397.50,102.74 L397.79,102.37 L398.08,101.99 L398.37,101.62 L398.66,101.24 L398.95,100.87 L399.24,100.50 L399.53,100.13 L399.82,99.75 L400.11,99.38 L400.41,99.01 L400.70,98.64 L400.99,98.27 L401.29,97.90 L401.58,97.53 L401.88,97.16 L402.17,96.80 L402.47,96.43 L402.76,96.06 L403.06,95.70 L403.36,95.33 L403.66,94.97 L403.96,94.61 L404.26,94.24 L404.56,93.88 L404.87,93.52 L405.17,93.16 L405.47,92.80 L405.78,92.44 L406.08,92.09 L406.39,91.73 L406.70,91.37 L407.01,91.02 L407.32,90.67 L407.63,90.31 L407.94,89.96 L408.26,89.61 L408.57,89.26 L408.89,88.92 L409.20,88.57 L409.52,88.23 L409.84,87.88 L410.16,87.54 L410.48,87.20 L410.80,86.86 L411.13,86.52 L411.45,86.18 L411.78,85.84 L412.11,85.51 L412.44,85.18 L412.77,84.84 L413.10,84.51 L413.44,84.18 L413.77,83.86 L414.11,83.53 L414.45,83.21 L414.79,82.88 L415.13,82.56 L415.47,82.24 L415.82,81.92 L416.16,81.61 L416.51,81.29 L416.86,80.98 L417.21,80.67 L417.57,80.36 L417.92,80.05 L418.28,79.75 L418.64,79.44 L419.00,79.14 L419.36,78.84 L419.72,78.55 L420.09,78.25 L420.46,77.95 L420.83,77.66 L421.20,77.37 L421.57,77.08 L421.95,76.80 L422.33,76.51 L422.71,76.23 L423.09,75.95 L423.47,75.67 L423.85,75.40 L424.24,75.12 L424.63,74.85 L425.02,74.58 L425.41,74.31 L425.80,74.04 L426.19,73.78 L426.59,73.51 L426.99,73.25 L427.39,72.99 L427.79,72.73 L428.19,72.48 L428.59,72.22 L429.00,71.97 L429.40,71.72 L429.81,71.47 L430.22,71.23 L430.63,70.98 L431.04,70.74 L431.45,70.50 L431.87,70.26 L432.28,70.03 L432.70,69.79 L433.12,69.56 L433.54,69.33 L433.96,69.10 L434.38,68.87 L434.80,68.64 L435.22,68.42 L435.65,68.20 L436.07,67.98 L436.50,67.76 L436.93,67.54 L437.36,67.33 L437.79,67.12 L438.22,66.91 L438.65,66.70 L439.08,66.49 L439.52,66.28 L439.95,66.08 L440.39,65.88 L440.82,65.68 L441.26,65.48 L441.70,65.28 L442.14,65.09 L442.58,64.90 L443.02,64.71 L443.46,64.52 L443.90,64.33 L444.34,64.15 L444.79,63.96 L445.23,63.78 L445.67,63.60 L446.12,63.42 L446.57,63.25 L447.01,63.07 L447.46,62.90 L447.91,62.73 L448.35,62.56 L448.80,62.39 L449.25,62.23 L449.70,62.06 L450.15,61.90 L450.60,61.74 L451.05,61.58 L451.50,61.42 L451.95,61.27 L452.40,61.11 L452.85,60.96 L453.31,60.81 L453.76,60.67 L454.21,60.52 L454.66,60.37 L455.12,60.23 L455.57,60.09 L456.02,59.95 L456.47,59.81 L456.93,59.68 L457.38,59.54 L457.83,59.41 L458.29,59.28 L458.74,59.15 L459.20,59.02 L459.65,58.90 L460.10,58.78 L460.56,58.65 L461.01,58.53 L461.46,58.41 L461.91,58.30 L462.37,58.18 L462.82,58.07 L463.27,57.96 L463.73,57.85 L464.18,57.74 L464.63,57.63 L465.08,57.53 L465.53,57.42 L465.98,57.32 L466.43,57.22 L466.88,57.12 L467.33,57.03 L467.78,56.93 L468.23,56.84 L468.68,56.75 L469.13,56.66 L469.58,56.57 L470.03,56.48 L470.47,56.40 L470.92,56.31 L471.36,56.23 L471.81,56.15 L472.25,56.07 L472.70,56.00" fill="none" stroke="#9f68de" stroke-width="1.8" stroke-linejoin="round" stroke-linecap="round"/>
<path d="M76.5,350.9 H167" stroke="#6a3d80" stroke-width="1.5" fill="none"/>
<path d="M72.53,331.79 L75.57,324.71 M87.49,316.46 L94.41,317.44 M223.29,42.23 L230.91,41.07 M246.50,40.50 L254.80,40.50 M269.70,40.50 L278.40,40.50 M409.10,318.72 L417.50,318.88 M432.10,319.41 L440.30,319.49 M455.70,319.60 L463.90,319.60 M105.30,310.87 L107.91,303.63 M113.25,288.95 L115.90,281.71 M121.31,267.03 L123.99,259.79 M129.46,245.11 L132.17,237.87 M137.71,223.19 L140.46,215.95 M146.06,201.27 L148.84,194.03 M154.51,179.35 L157.33,172.11 M163.06,157.44 L165.91,150.18 M171.71,135.52 L174.60,128.26 M180.46,113.60 L183.38,106.34 M189.31,91.68 L192.26,84.42 M198.26,69.76 L201.24,62.50 M207.30,47.84 L210.33,40.58 M288.83,46.43 L291.69,53.97 M297.10,68.19 L299.99,75.73 M305.44,89.95 L308.35,97.49 M313.86,111.71 L316.80,119.25 M322.35,133.46 L325.32,141.02 M330.92,155.22 L333.91,162.78 M339.56,176.98 L342.58,184.54 M348.28,198.74 L351.32,206.30 M357.07,220.50 L360.14,228.06 M365.93,242.26 L369.03,249.82 M374.87,264.02 L378.00,271.58 M383.89,285.78 L387.04,293.34 M392.98,307.53 L396.16,315.11" fill="none" stroke="#fafa60" stroke-width="2.6" stroke-linecap="round"/>
<g font-family="Liberation Serif, serif" font-weight="bold" font-size="17" fill="#000"><text text-anchor="end" transform="translate(56.60,357.40) scale(1,1.05)">0</text><text text-anchor="end" transform="translate(56.60,319.51) scale(1,1.05)">500</text><text text-anchor="end" transform="translate(56.60,281.62) scale(1,1.05)">1000</text><text text-anchor="end" transform="translate(56.60,243.73) scale(1,1.05)">1500</text><text text-anchor="end" transform="translate(56.60,205.84) scale(1,1.05)">2000</text><text text-anchor="end" transform="translate(56.60,167.96) scale(1,1.05)">2500</text><text text-anchor="end" transform="translate(56.60,130.07) scale(1,1.05)">3000</text><text text-anchor="end" transform="translate(56.60,92.18) scale(1,1.05)">3500</text><text text-anchor="end" transform="translate(56.60,54.29) scale(1,1.05)">4000</text><text text-anchor="end" transform="translate(56.60,16.40) scale(1,1.05)">4500</text><text text-anchor="middle" transform="translate(68.00,376.70) scale(1,1.05)">0</text><text text-anchor="middle" transform="translate(118.00,376.70) scale(1,1.05)">100</text><text text-anchor="middle" transform="translate(168.00,376.70) scale(1,1.05)">200</text><text text-anchor="middle" transform="translate(218.00,376.70) scale(1,1.05)">300</text><text text-anchor="middle" transform="translate(268.00,376.70) scale(1,1.05)">400</text><text text-anchor="middle" transform="translate(318.00,376.70) scale(1,1.05)">500</text><text text-anchor="middle" transform="translate(368.00,376.70) scale(1,1.05)">600</text><text text-anchor="middle" transform="translate(418.00,376.70) scale(1,1.05)">700</text><text text-anchor="middle" transform="translate(468.00,376.70) scale(1,1.05)">800</text><text transform="translate(505.50,357.30) scale(1,1.05)">45</text><text transform="translate(505.50,326.30) scale(1,1.05)">50</text><text transform="translate(505.50,295.30) scale(1,1.05)">55</text><text transform="translate(505.50,264.30) scale(1,1.05)">60</text><text transform="translate(505.50,233.30) scale(1,1.05)">65</text><text transform="translate(505.50,202.30) scale(1,1.05)">70</text><text transform="translate(505.50,171.30) scale(1,1.05)">75</text><text transform="translate(505.50,140.30) scale(1,1.05)">80</text><text transform="translate(505.50,109.30) scale(1,1.05)">85</text><text transform="translate(505.50,78.30) scale(1,1.05)">90</text><text transform="translate(505.50,47.30) scale(1,1.05)">95</text><text transform="translate(505.50,16.30) scale(1,1.05)">100</text></g>
<g font-family="Liberation Serif, serif" font-weight="bold" font-size="17.9" fill="#000"><text text-anchor="middle" transform="translate(284.40,397.50) scale(1,1.0)">Time (s)</text><text text-anchor="middle" transform="translate(14.40,168.50) rotate(-90) scale(1,1.0)">Viscosity (cP)</text><text text-anchor="middle" transform="translate(543.60,164.30) rotate(-90) scale(1,1.0)">Temperature (°C)</text></g>
<path d="M78.3,25.00 H106.8" stroke="#404040" stroke-width="1.8" fill="none"/>
<text font-family="Liberation Serif, serif" font-weight="bold" font-size="13" transform="translate(110.8,29.40) scale(1,0.97)">NRS</text>
<path d="M78.3,41.35 H106.8" stroke="#ee2a2e" stroke-width="1.8" fill="none"/>
<text font-family="Liberation Serif, serif" font-weight="bold" font-size="13" transform="translate(110.8,45.75) scale(1,0.97)">ANN-50</text>
<path d="M78.3,57.70 H106.8" stroke="#0e5cd6" stroke-width="1.8" fill="none"/>
<text font-family="Liberation Serif, serif" font-weight="bold" font-size="13" transform="translate(110.8,62.10) scale(1,0.97)">ANN-60</text>
<path d="M78.3,74.05 H106.8" stroke="#2ba55f" stroke-width="1.8" fill="none"/>
<text font-family="Liberation Serif, serif" font-weight="bold" font-size="13" transform="translate(110.8,78.45) scale(1,0.97)">ANN-50-60</text>
<path d="M78.3,90.40 H106.8" stroke="#9f68de" stroke-width="1.8" fill="none"/>
<text font-family="Liberation Serif, serif" font-weight="bold" font-size="13" transform="translate(110.8,94.80) scale(1,0.97)">ANN-60-50</text>
<path d="M78.00,106.75 H86.00 M101.30,106.75 H104.90" stroke="#fafa60" stroke-width="2.6" stroke-linecap="round" fill="none"/>
<text font-family="Liberation Serif, serif" font-weight="bold" font-size="13" transform="translate(110.8,111.15) scale(1,0.97)">Temp(C)</text>
</svg>
</body></html>
